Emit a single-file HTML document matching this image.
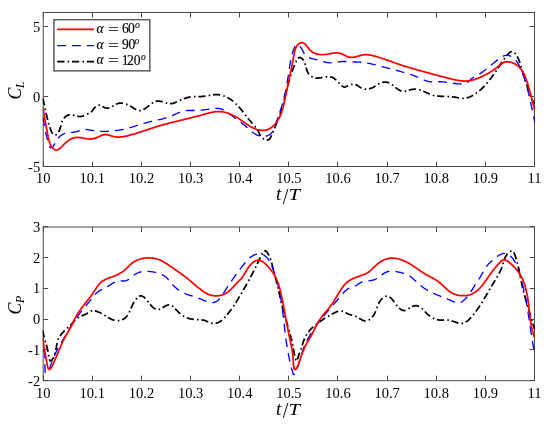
<!DOCTYPE html>
<html><head><meta charset="utf-8"><style>
html,body{margin:0;padding:0;background:#fff;width:550px;height:429px;overflow:hidden}
svg{display:block}
.tk{font-family:"Liberation Serif",serif;font-size:14.5px;fill:#000}
.lab{font-family:"Liberation Serif",serif;font-size:17px;font-style:italic;fill:#000}
.lg{font-family:"Liberation Serif",serif;font-size:13.6px;fill:#000;stroke:#000;stroke-width:0.15px}
</style></head><body>
<svg width="550" height="429" viewBox="0 0 550 429">
<defs><clipPath id="c1"><rect x="42.6" y="12.0" width="492.5" height="155.0"/></clipPath>
<clipPath id="c2"><rect x="42.6" y="226.5" width="492.5" height="154.7"/></clipPath></defs>
<rect width="550" height="429" fill="#fff"/>
<path d="M43.2 12.50 H534.5 M43.2 166.50 H534.5 M43.2 12.00 V167.00 M534.5 12.00 V167.00" fill="none" stroke="#4a4a4a" stroke-width="1"/>
<line x1="43.5" y1="166.5" x2="43.5" y2="161.5" stroke="#4a4a4a"/><line x1="43.5" y1="12.5" x2="43.5" y2="17.5" stroke="#4a4a4a"/>
<line x1="92.5" y1="166.5" x2="92.5" y2="161.5" stroke="#4a4a4a"/><line x1="92.5" y1="12.5" x2="92.5" y2="17.5" stroke="#4a4a4a"/>
<line x1="141.5" y1="166.5" x2="141.5" y2="161.5" stroke="#4a4a4a"/><line x1="141.5" y1="12.5" x2="141.5" y2="17.5" stroke="#4a4a4a"/>
<line x1="190.5" y1="166.5" x2="190.5" y2="161.5" stroke="#4a4a4a"/><line x1="190.5" y1="12.5" x2="190.5" y2="17.5" stroke="#4a4a4a"/>
<line x1="239.5" y1="166.5" x2="239.5" y2="161.5" stroke="#4a4a4a"/><line x1="239.5" y1="12.5" x2="239.5" y2="17.5" stroke="#4a4a4a"/>
<line x1="288.5" y1="166.5" x2="288.5" y2="161.5" stroke="#4a4a4a"/><line x1="288.5" y1="12.5" x2="288.5" y2="17.5" stroke="#4a4a4a"/>
<line x1="337.5" y1="166.5" x2="337.5" y2="161.5" stroke="#4a4a4a"/><line x1="337.5" y1="12.5" x2="337.5" y2="17.5" stroke="#4a4a4a"/>
<line x1="387.5" y1="166.5" x2="387.5" y2="161.5" stroke="#4a4a4a"/><line x1="387.5" y1="12.5" x2="387.5" y2="17.5" stroke="#4a4a4a"/>
<line x1="436.5" y1="166.5" x2="436.5" y2="161.5" stroke="#4a4a4a"/><line x1="436.5" y1="12.5" x2="436.5" y2="17.5" stroke="#4a4a4a"/>
<line x1="485.5" y1="166.5" x2="485.5" y2="161.5" stroke="#4a4a4a"/><line x1="485.5" y1="12.5" x2="485.5" y2="17.5" stroke="#4a4a4a"/>
<line x1="534.5" y1="166.5" x2="534.5" y2="161.5" stroke="#4a4a4a"/><line x1="534.5" y1="12.5" x2="534.5" y2="17.5" stroke="#4a4a4a"/>
<line x1="43.2" y1="166.5" x2="48.2" y2="166.5" stroke="#4a4a4a"/><line x1="534.5" y1="166.5" x2="529.5" y2="166.5" stroke="#4a4a4a"/>
<line x1="43.2" y1="96.5" x2="48.2" y2="96.5" stroke="#4a4a4a"/><line x1="534.5" y1="96.5" x2="529.5" y2="96.5" stroke="#4a4a4a"/>
<line x1="43.2" y1="26.5" x2="48.2" y2="26.5" stroke="#4a4a4a"/><line x1="534.5" y1="26.5" x2="529.5" y2="26.5" stroke="#4a4a4a"/>

<g clip-path="url(#c1)"><path d="M42.9,98.4 43.1,99.3 43.3,100.1 43.5,101.0 43.7,101.8 43.9,102.6 44.0,103.4 44.2,104.2 44.4,105.0 44.5,105.8 44.7,106.6 44.9,107.4 45.0,108.1 45.2,108.9 45.3,109.6 45.5,110.4 45.6,111.1 45.8,111.9 46.0,112.6 46.1,113.3 46.3,114.1 46.5,114.8 46.6,115.6 46.8,116.3 47.0,117.0 47.2,117.8 47.4,118.5 47.5,119.3 47.7,120.1 48.0,120.8 48.2,121.6 48.4,122.4 48.6,123.2 48.9,124.0 49.1,124.8 49.4,125.6 49.6,126.4 49.9,127.3 50.2,128.1 50.5,129.0 50.8,129.9 51.1,130.7 51.5,131.6 51.9,132.4 52.2,133.1 52.7,133.7 53.1,134.3 53.6,134.7 54.1,135.0 54.6,135.1 55.2,135.0 55.8,134.8 56.5,134.4 57.1,133.8 57.6,133.3 58.1,132.7 58.5,132.0 58.9,131.3 59.3,130.6 59.6,129.8 59.9,129.1 60.1,128.3 60.3,127.5 60.6,126.7 60.8,125.8 61.0,125.0 61.2,124.2 61.4,123.4 61.7,122.6 61.9,121.8 62.2,121.1 62.6,120.3 63.0,119.6 63.4,118.9 63.9,118.3 64.4,117.7 64.9,117.1 65.5,116.6 66.1,116.1 66.8,115.7 67.4,115.4 68.1,115.1 68.9,114.9 69.6,114.8 70.3,114.8 71.1,114.8 71.9,114.9 72.7,115.0 73.5,115.2 74.3,115.4 75.1,115.6 75.9,115.8 76.7,116.1 77.5,116.2 78.4,116.4 79.2,116.5 80.0,116.6 80.7,116.5 81.5,116.4 82.3,116.3 83.1,116.0 83.8,115.6 84.6,115.2 85.3,114.9 86.1,114.5 86.8,114.2 87.6,113.9 88.3,113.6 89.1,113.3 89.7,113.0 90.4,112.6 91.0,112.1 91.5,111.6 92.1,111.0 92.5,110.4 93.0,109.8 93.5,109.1 94.0,108.4 94.6,107.8 95.2,107.1 95.8,106.5 96.5,106.0 97.2,105.6 97.9,105.3 98.7,105.1 99.4,105.1 100.1,105.3 100.9,105.6 101.6,105.9 102.4,106.4 103.1,106.8 103.8,107.2 104.6,107.6 105.3,107.8 106.1,108.0 106.9,108.1 107.6,108.1 108.4,108.0 109.1,107.8 109.9,107.6 110.6,107.3 111.4,106.9 112.1,106.5 112.8,106.1 113.5,105.7 114.3,105.2 115.0,104.8 115.7,104.4 116.4,104.0 117.2,103.8 117.9,103.5 118.7,103.4 119.4,103.2 120.2,103.2 120.9,103.1 121.7,103.1 122.4,103.2 123.2,103.3 124.0,103.5 124.7,103.6 125.5,103.9 126.3,104.1 127.0,104.4 127.8,104.7 128.5,105.1 129.3,105.5 130.0,105.9 130.7,106.3 131.5,106.7 132.2,107.2 132.9,107.7 133.6,108.2 134.3,108.6 135.1,109.1 135.8,109.5 136.5,109.9 137.2,110.2 137.9,110.4 138.6,110.6 139.3,110.7 140.0,110.7 140.7,110.6 141.4,110.5 142.1,110.2 142.8,109.9 143.5,109.5 144.2,109.1 144.9,108.7 145.6,108.2 146.3,107.7 146.9,107.1 147.6,106.6 148.3,106.1 149.0,105.5 149.6,105.0 150.3,104.5 151.0,104.0 151.7,103.5 152.3,103.1 153.0,102.6 153.7,102.2 154.4,101.9 155.1,101.6 155.8,101.4 156.5,101.2 157.3,101.1 158.0,101.0 158.8,101.1 159.5,101.1 160.3,101.3 161.1,101.5 161.9,101.7 162.7,101.9 163.5,102.2 164.3,102.5 165.1,102.7 165.9,103.0 166.7,103.2 167.5,103.4 168.3,103.6 169.0,103.7 169.8,103.7 170.6,103.7 171.4,103.6 172.1,103.5 172.9,103.3 173.7,103.1 174.4,102.8 175.2,102.6 175.9,102.2 176.7,101.9 177.4,101.6 178.2,101.2 178.9,100.9 179.6,100.5 180.4,100.2 181.1,99.9 181.9,99.5 182.6,99.2 183.4,98.9 184.1,98.6 184.9,98.4 185.6,98.1 186.4,97.9 187.1,97.6 187.9,97.4 188.6,97.3 189.4,97.1 190.2,97.0 191.0,96.9 191.7,96.8 192.5,96.7 193.3,96.7 194.1,96.6 194.9,96.6 195.7,96.6 196.5,96.6 197.3,96.5 198.1,96.5 198.9,96.5 199.7,96.5 200.5,96.5 201.3,96.5 202.1,96.4 202.9,96.4 203.7,96.3 204.5,96.2 205.3,96.1 206.1,96.0 206.9,95.9 207.7,95.7 208.5,95.6 209.3,95.4 210.1,95.3 210.9,95.2 211.7,95.0 212.5,94.9 213.2,94.8 214.0,94.7 214.8,94.6 215.6,94.6 216.4,94.6 217.2,94.6 217.9,94.6 218.7,94.7 219.5,94.8 220.3,94.9 221.1,95.1 221.8,95.3 222.6,95.5 223.4,95.8 224.1,96.0 224.9,96.3 225.6,96.6 226.4,97.0 227.1,97.3 227.8,97.7 228.5,98.1 229.2,98.6 229.9,99.0 230.6,99.4 231.3,99.9 231.9,100.4 232.6,100.9 233.2,101.4 233.8,101.9 234.4,102.4 235.0,103.0 235.6,103.5 236.2,104.1 236.8,104.6 237.3,105.2 237.9,105.8 238.4,106.4 238.9,106.9 239.4,107.5 240.0,108.1 240.5,108.8 241.0,109.4 241.5,110.0 242.0,110.6 242.5,111.2 243.0,111.9 243.4,112.5 243.9,113.1 244.4,113.7 244.9,114.4 245.4,115.0 245.9,115.6 246.4,116.3 246.8,116.9 247.3,117.5 247.8,118.1 248.3,118.7 248.8,119.4 249.3,120.0 249.9,120.6 250.4,121.2 250.9,121.8 251.4,122.4 252.0,123.0 252.5,123.5 253.0,124.1 253.6,124.7 254.1,125.3 254.6,125.9 255.1,126.5 255.6,127.2 256.1,127.8 256.6,128.4 257.0,129.1 257.4,129.8 257.9,130.4 258.2,131.2 258.6,131.9 258.9,132.6 259.3,133.4 259.6,134.1 260.0,134.9 260.4,135.6 260.8,136.3 261.3,136.9 261.9,137.6 262.5,138.1 263.2,138.6 263.9,139.1 264.6,139.4 265.3,139.7 266.0,139.9 266.8,140.0 267.5,140.0 268.1,139.8 268.7,139.6 269.3,139.2 269.8,138.7 270.2,138.1 270.6,137.4 271.0,136.7 271.3,135.9 271.6,135.1 272.0,134.3 272.3,133.5 272.6,132.8 273.0,132.0 273.3,131.2 273.6,130.4 273.9,129.6 274.3,128.9 274.6,128.1 274.9,127.3 275.2,126.6 275.5,125.8 275.8,125.0 276.1,124.3 276.4,123.5 276.7,122.8 277.0,122.0 277.3,121.3 277.6,120.5 277.9,119.8 278.2,119.0 278.5,118.3 278.7,117.5 279.0,116.8 279.3,116.0 279.5,115.3 279.8,114.6 280.1,113.8 280.3,113.1 280.6,112.3 280.8,111.6 281.1,110.8 281.3,110.1 281.5,109.3 281.8,108.6 282.0,107.8 282.2,107.1 282.4,106.3 282.6,105.6 282.8,104.8 283.1,104.0 283.3,103.3 283.5,102.5 283.7,101.8 283.9,101.0 284.1,100.2 284.3,99.5 284.5,98.7 284.7,98.0 284.9,97.2 285.1,96.4 285.3,95.7 285.4,94.9 285.6,94.1 285.8,93.4 286.0,92.6 286.2,91.8 286.4,91.1 286.6,90.3 286.8,89.5 287.0,88.8 287.2,88.0 287.4,87.2 287.6,86.4 287.8,85.7 288.0,84.9 288.2,84.1 288.4,83.4 288.6,82.6 288.9,81.8 289.1,81.0 289.3,80.3 289.5,79.5 289.7,78.7 290.0,77.9 290.2,77.2 290.5,76.4 290.7,75.6 290.9,74.8 291.2,74.0 291.5,73.3 291.7,72.5 292.0,71.7 292.3,70.9 292.6,70.2 292.8,69.4 293.1,68.6 293.4,67.8 293.7,67.0 294.0,66.3 294.4,65.5 294.7,64.7 295.0,63.9 295.4,63.2 295.7,62.4 296.1,61.6 296.4,60.8 296.8,60.1 297.2,59.4 297.6,58.8 298.1,58.3 298.6,57.9 299.1,57.6 299.6,57.5 300.3,57.6 300.9,57.8 301.6,58.3 302.2,58.8 302.8,59.4 303.3,60.0 303.7,60.6 304.1,61.3 304.5,62.0 304.8,62.8 305.0,63.6 305.3,64.3 305.5,65.1 305.7,65.9 305.9,66.7 306.1,67.5 306.3,68.3 306.5,69.1 306.7,69.9 307.0,70.7 307.3,71.5 307.7,72.2 308.1,72.9 308.5,73.6 309.0,74.2 309.6,74.8 310.1,75.4 310.7,75.9 311.4,76.4 312.0,76.8 312.7,77.2 313.4,77.5 314.2,77.7 314.9,77.9 315.7,78.0 316.4,78.0 317.2,78.1 318.0,78.0 318.8,78.0 319.6,77.9 320.5,77.8 321.3,77.7 322.1,77.5 322.9,77.4 323.8,77.3 324.6,77.1 325.4,77.0 326.2,76.9 327.0,76.8 327.8,76.8 328.6,76.8 329.4,76.8 330.1,76.9 330.9,77.0 331.6,77.2 332.3,77.4 333.0,77.7 333.7,78.1 334.3,78.5 334.9,79.0 335.6,79.5 336.2,80.1 336.8,80.7 337.4,81.3 338.0,81.9 338.5,82.6 339.1,83.2 339.7,83.8 340.3,84.4 340.9,85.0 341.5,85.6 342.1,86.1 342.8,86.5 343.4,86.8 344.1,87.0 344.8,87.0 345.5,86.8 346.2,86.5 347.0,86.2 347.7,85.8 348.5,85.4 349.3,85.0 350.1,84.7 350.9,84.5 351.7,84.3 352.5,84.3 353.3,84.2 354.0,84.3 354.8,84.4 355.6,84.6 356.3,84.9 357.1,85.2 357.8,85.7 358.4,86.1 359.1,86.6 359.8,87.1 360.5,87.6 361.2,88.0 361.9,88.3 362.6,88.6 363.4,88.8 364.2,88.9 364.9,89.1 365.7,89.1 366.5,89.1 367.3,89.1 368.1,89.0 368.9,88.9 369.7,88.7 370.5,88.5 371.2,88.2 372.0,87.9 372.7,87.5 373.5,87.2 374.2,86.7 374.9,86.3 375.6,85.8 376.3,85.4 377.0,84.9 377.7,84.5 378.4,84.1 379.1,83.7 379.8,83.3 380.5,83.0 381.3,82.8 382.0,82.5 382.8,82.4 383.5,82.2 384.3,82.2 385.0,82.1 385.8,82.2 386.5,82.2 387.2,82.3 388.0,82.5 388.7,82.7 389.4,83.0 390.1,83.3 390.8,83.7 391.5,84.1 392.1,84.6 392.8,85.1 393.4,85.6 394.1,86.1 394.7,86.7 395.4,87.3 396.0,87.8 396.7,88.4 397.4,88.9 398.1,89.4 398.8,89.8 399.5,90.2 400.2,90.6 401.0,90.9 401.7,91.1 402.5,91.3 403.2,91.4 404.0,91.4 404.7,91.3 405.5,91.1 406.3,91.0 407.1,90.7 407.9,90.5 408.6,90.2 409.4,90.0 410.2,89.8 411.0,89.6 411.8,89.5 412.6,89.3 413.4,89.3 414.2,89.2 415.0,89.2 415.8,89.3 416.6,89.3 417.4,89.4 418.1,89.6 418.9,89.7 419.7,89.9 420.4,90.1 421.2,90.4 422.0,90.6 422.7,90.9 423.4,91.2 424.2,91.5 424.9,91.9 425.6,92.2 426.4,92.5 427.1,92.9 427.8,93.2 428.6,93.5 429.3,93.9 430.0,94.2 430.8,94.5 431.5,94.8 432.3,95.0 433.0,95.3 433.8,95.5 434.6,95.7 435.4,95.8 436.2,96.0 437.0,96.1 437.8,96.1 438.6,96.2 439.4,96.2 440.2,96.2 441.0,96.3 441.8,96.3 442.6,96.3 443.4,96.3 444.2,96.3 445.0,96.3 445.8,96.4 446.6,96.4 447.4,96.4 448.2,96.5 449.0,96.5 449.8,96.6 450.5,96.6 451.3,96.7 452.1,96.8 452.9,96.9 453.7,97.0 454.5,97.1 455.3,97.2 456.1,97.4 456.9,97.5 457.7,97.7 458.5,97.8 459.4,98.0 460.2,98.1 461.0,98.2 461.8,98.3 462.6,98.3 463.4,98.3 464.2,98.3 465.0,98.2 465.7,98.1 466.5,97.9 467.3,97.7 468.0,97.5 468.8,97.3 469.5,97.0 470.2,96.7 470.9,96.4 471.6,96.0 472.3,95.7 473.0,95.3 473.7,94.9 474.4,94.5 475.1,94.0 475.7,93.6 476.4,93.1 477.0,92.6 477.7,92.2 478.3,91.7 478.9,91.2 479.5,90.7 480.1,90.1 480.7,89.6 481.3,89.1 481.9,88.5 482.5,88.0 483.0,87.4 483.6,86.8 484.2,86.3 484.7,85.7 485.3,85.1 485.8,84.5 486.3,83.9 486.8,83.3 487.4,82.7 487.9,82.0 488.4,81.4 488.9,80.8 489.4,80.2 489.9,79.5 490.4,78.9 490.9,78.2 491.4,77.6 491.8,76.9 492.3,76.3 492.8,75.6 493.2,75.0 493.7,74.3 494.2,73.7 494.6,73.0 495.1,72.3 495.5,71.7 496.0,71.0 496.4,70.3 496.9,69.7 497.3,69.0 497.8,68.3 498.2,67.7 498.7,67.0 499.1,66.4 499.6,65.7 500.0,65.0 500.4,64.4 500.9,63.7 501.3,63.1 501.8,62.4 502.2,61.8 502.6,61.1 503.1,60.5 503.5,59.9 504.0,59.3 504.4,58.6 504.9,58.0 505.3,57.4 505.8,56.7 506.3,56.1 506.9,55.4 507.5,54.8 508.1,54.1 508.7,53.4 509.3,52.8 510.0,52.2 510.7,51.8 511.4,51.5 512.1,51.4 512.7,51.5 513.4,51.8 514.0,52.2 514.6,52.8 515.1,53.4 515.7,54.1 516.1,54.8 516.6,55.4 517.0,56.1 517.4,56.8 517.8,57.5 518.2,58.3 518.5,59.0 518.8,59.7 519.1,60.5 519.4,61.2 519.7,62.0 519.9,62.7 520.2,63.5 520.4,64.3 520.6,65.0 520.8,65.8 521.0,66.6 521.3,67.3 521.5,68.1 521.7,68.9 521.9,69.7 522.1,70.4 522.3,71.2 522.6,72.0 522.8,72.7 523.1,73.5 523.3,74.2 523.6,75.0 523.8,75.7 524.1,76.5 524.4,77.3 524.6,78.0 524.9,78.8 525.1,79.5 525.4,80.3 525.7,81.0 525.9,81.8 526.1,82.6 526.4,83.3 526.6,84.1 526.8,84.9 527.1,85.6 527.3,86.4 527.5,87.2 527.8,87.9 528.0,88.7 528.2,89.5 528.4,90.2 528.7,91.0 528.9,91.8 529.2,92.5 529.4,93.3 529.7,94.0 530.0,94.8 530.2,95.5 530.5,96.3 530.8,97.0 531.2,97.7 531.5,98.5 531.8,99.2 532.2,99.9 532.6,100.6 532.9,101.3 533.4,102.0 533.8,102.7 534.2,103.3 534.7,104.0" fill="none" stroke="#000000" stroke-width="1.75" stroke-linejoin="round" stroke-dasharray="7.2 3.2 1.6 2.8"/>
<path d="M43.0,117.3 43.2,118.3 43.3,119.2 43.5,120.1 43.6,121.0 43.8,121.9 43.9,122.7 44.1,123.5 44.2,124.3 44.3,125.0 44.5,125.8 44.6,126.5 44.7,127.3 44.9,128.0 45.0,128.7 45.1,129.4 45.3,130.1 45.4,130.8 45.5,131.5 45.7,132.2 45.8,132.9 46.0,133.6 46.2,134.4 46.3,135.1 46.5,135.9 46.7,136.6 46.9,137.4 47.1,138.2 47.3,139.1 47.5,139.9 47.8,140.8 48.0,141.7 48.3,142.6 48.5,143.6 48.8,144.6 49.2,145.5 49.5,146.3 49.9,147.0 50.3,147.5 50.7,147.9 51.2,147.9 51.8,147.7 52.3,147.3 52.9,146.7 53.4,146.0 53.9,145.2 54.4,144.5 54.8,143.7 55.1,143.0 55.5,142.3 55.9,141.6 56.2,140.9 56.6,140.2 57.0,139.6 57.5,138.9 58.0,138.3 58.5,137.7 59.1,137.1 59.6,136.6 60.3,136.0 60.9,135.5 61.6,135.1 62.3,134.6 63.0,134.2 63.7,133.9 64.5,133.5 65.2,133.3 66.0,133.0 66.8,132.8 67.5,132.7 68.3,132.6 69.1,132.5 69.9,132.4 70.7,132.4 71.5,132.3 72.3,132.3 73.1,132.2 73.8,132.2 74.6,132.0 75.4,131.9 76.2,131.7 77.0,131.5 77.8,131.3 78.5,131.0 79.3,130.8 80.1,130.6 80.9,130.3 81.6,130.1 82.4,129.9 83.2,129.7 84.0,129.6 84.7,129.5 85.5,129.5 86.3,129.5 87.1,129.6 87.9,129.7 88.7,129.8 89.5,130.0 90.3,130.1 91.0,130.2 91.8,130.4 92.6,130.5 93.4,130.6 94.2,130.7 95.0,130.8 95.8,130.9 96.6,131.0 97.4,131.0 98.2,131.1 99.0,131.1 99.8,131.2 100.6,131.2 101.4,131.3 102.2,131.3 103.0,131.3 103.7,131.3 104.5,131.3 105.3,131.3 106.1,131.3 106.9,131.3 107.7,131.3 108.5,131.2 109.3,131.2 110.1,131.2 110.9,131.1 111.7,131.0 112.4,131.0 113.2,130.9 114.0,130.8 114.8,130.7 115.6,130.6 116.4,130.5 117.2,130.4 117.9,130.3 118.7,130.2 119.5,130.1 120.3,129.9 121.1,129.8 121.8,129.6 122.6,129.5 123.4,129.3 124.2,129.1 124.9,128.9 125.7,128.7 126.5,128.6 127.2,128.4 128.0,128.1 128.8,127.9 129.6,127.7 130.3,127.5 131.1,127.3 131.8,127.1 132.6,126.8 133.4,126.6 134.1,126.4 134.9,126.1 135.7,125.9 136.4,125.7 137.2,125.4 138.0,125.2 138.7,124.9 139.5,124.7 140.3,124.5 141.0,124.2 141.8,124.0 142.6,123.8 143.3,123.5 144.1,123.3 144.9,123.1 145.6,122.9 146.4,122.7 147.2,122.5 148.0,122.3 148.7,122.1 149.5,121.9 150.3,121.7 151.1,121.5 151.8,121.4 152.6,121.2 153.4,121.0 154.2,120.8 155.0,120.6 155.7,120.5 156.5,120.3 157.3,120.1 158.1,119.9 158.9,119.7 159.6,119.6 160.4,119.4 161.2,119.2 162.0,119.0 162.7,118.8 163.5,118.6 164.3,118.4 165.0,118.1 165.8,117.9 166.6,117.7 167.3,117.4 168.1,117.2 168.8,116.9 169.6,116.7 170.3,116.4 171.1,116.1 171.8,115.8 172.6,115.5 173.3,115.2 174.0,114.8 174.8,114.5 175.5,114.2 176.2,113.8 176.9,113.5 177.7,113.1 178.4,112.8 179.1,112.5 179.9,112.2 180.6,111.9 181.4,111.7 182.1,111.4 182.9,111.2 183.6,111.0 184.4,110.8 185.2,110.7 186.0,110.6 186.8,110.5 187.5,110.5 188.4,110.5 189.2,110.5 190.0,110.5 190.8,110.5 191.6,110.5 192.4,110.5 193.2,110.5 194.0,110.5 194.8,110.5 195.6,110.5 196.4,110.5 197.2,110.4 198.0,110.4 198.8,110.3 199.6,110.3 200.4,110.2 201.2,110.1 201.9,110.1 202.7,110.0 203.5,109.9 204.3,109.8 205.1,109.7 205.9,109.6 206.7,109.5 207.5,109.4 208.3,109.3 209.1,109.2 209.9,109.1 210.7,109.0 211.5,108.9 212.3,108.8 213.1,108.7 213.9,108.6 214.7,108.5 215.5,108.4 216.3,108.4 217.1,108.4 217.9,108.4 218.7,108.5 219.5,108.6 220.2,108.7 221.0,108.9 221.7,109.1 222.5,109.4 223.2,109.8 223.9,110.1 224.6,110.6 225.3,111.0 225.9,111.5 226.6,111.9 227.3,112.4 227.9,112.9 228.6,113.4 229.2,113.9 229.9,114.4 230.6,114.8 231.2,115.3 231.9,115.8 232.5,116.2 233.2,116.7 233.8,117.1 234.4,117.6 235.1,118.1 235.7,118.5 236.4,119.0 237.0,119.4 237.6,119.9 238.3,120.4 238.9,120.8 239.5,121.3 240.2,121.8 240.8,122.3 241.4,122.7 242.0,123.2 242.7,123.7 243.3,124.2 243.9,124.7 244.5,125.3 245.1,125.8 245.7,126.3 246.3,126.9 247.0,127.4 247.6,128.0 248.2,128.5 248.8,129.1 249.4,129.6 250.0,130.2 250.7,130.7 251.3,131.2 251.9,131.7 252.6,132.2 253.2,132.7 253.9,133.2 254.5,133.6 255.2,134.0 255.9,134.4 256.6,134.8 257.3,135.1 258.0,135.4 258.7,135.7 259.5,135.9 260.2,136.1 261.0,136.2 261.8,136.3 262.6,136.4 263.4,136.4 264.2,136.4 265.0,136.3 265.8,136.2 266.5,136.0 267.3,135.8 268.0,135.5 268.7,135.2 269.4,134.8 270.0,134.4 270.6,133.9 271.2,133.4 271.7,132.8 272.1,132.2 272.6,131.6 273.0,130.9 273.3,130.2 273.6,129.4 274.0,128.7 274.3,127.9 274.5,127.1 274.8,126.3 275.1,125.5 275.4,124.7 275.6,123.9 275.9,123.1 276.2,122.3 276.4,121.6 276.7,120.8 277.0,120.0 277.3,119.2 277.5,118.5 277.8,117.7 278.1,116.9 278.3,116.2 278.6,115.4 278.9,114.7 279.1,113.9 279.4,113.2 279.6,112.4 279.9,111.7 280.1,110.9 280.4,110.2 280.6,109.4 280.9,108.7 281.1,107.9 281.4,107.2 281.6,106.4 281.8,105.7 282.1,104.9 282.3,104.2 282.5,103.4 282.7,102.7 282.9,101.9 283.2,101.1 283.4,100.4 283.6,99.6 283.8,98.9 284.0,98.1 284.1,97.3 284.3,96.6 284.5,95.8 284.7,95.0 284.9,94.3 285.0,93.5 285.2,92.7 285.4,91.9 285.5,91.1 285.7,90.4 285.9,89.6 286.0,88.8 286.2,88.0 286.3,87.2 286.5,86.4 286.6,85.6 286.7,84.9 286.9,84.1 287.0,83.3 287.1,82.5 287.3,81.7 287.4,80.9 287.5,80.1 287.7,79.3 287.8,78.5 287.9,77.7 288.1,76.9 288.2,76.1 288.3,75.3 288.4,74.5 288.6,73.7 288.7,72.9 288.8,72.1 288.9,71.3 289.0,70.5 289.2,69.7 289.3,68.9 289.4,68.1 289.5,67.3 289.7,66.5 289.8,65.7 289.9,64.9 290.0,64.1 290.2,63.3 290.3,62.5 290.4,61.7 290.6,60.9 290.7,60.1 290.9,59.3 291.0,58.5 291.2,57.8 291.4,57.0 291.6,56.2 291.7,55.4 291.9,54.7 292.2,53.9 292.4,53.1 292.6,52.4 292.9,51.6 293.1,50.9 293.4,50.2 293.7,49.4 294.0,48.7 294.3,48.0 294.6,47.3 294.9,46.6 295.3,45.9 295.7,45.3 296.2,44.8 296.7,44.5 297.4,44.6 298.1,44.9 298.8,45.4 299.5,46.0 300.1,46.6 300.6,47.2 301.1,47.9 301.6,48.6 302.0,49.3 302.4,50.1 302.8,50.9 303.2,51.7 303.6,52.4 304.0,53.2 304.4,53.9 304.9,54.6 305.4,55.2 305.9,55.8 306.5,56.2 307.1,56.7 307.7,57.1 308.4,57.4 309.1,57.7 309.8,58.0 310.5,58.2 311.3,58.5 312.0,58.7 312.8,58.9 313.6,59.0 314.4,59.2 315.2,59.4 316.0,59.6 316.7,59.8 317.5,60.0 318.3,60.2 319.1,60.4 319.9,60.6 320.7,60.9 321.5,61.1 322.2,61.3 323.0,61.5 323.8,61.8 324.6,62.0 325.3,62.2 326.1,62.3 326.9,62.5 327.7,62.6 328.4,62.7 329.2,62.8 330.0,62.9 330.8,62.9 331.6,62.9 332.4,62.9 333.1,62.8 333.9,62.7 334.7,62.6 335.5,62.5 336.3,62.3 337.1,62.2 337.9,62.0 338.7,61.9 339.5,61.8 340.3,61.7 341.1,61.6 341.9,61.5 342.7,61.5 343.4,61.5 344.2,61.5 345.0,61.5 345.8,61.5 346.6,61.5 347.4,61.6 348.2,61.6 349.0,61.6 349.8,61.7 350.6,61.7 351.4,61.8 352.2,61.8 353.0,61.9 353.8,61.9 354.6,62.0 355.3,62.0 356.1,62.0 356.9,62.0 357.7,62.1 358.5,62.1 359.3,62.1 360.1,62.2 360.9,62.2 361.7,62.3 362.5,62.3 363.3,62.4 364.1,62.5 364.8,62.6 365.6,62.7 366.4,62.9 367.2,63.0 368.0,63.1 368.7,63.3 369.5,63.5 370.3,63.6 371.1,63.8 371.8,64.0 372.6,64.2 373.4,64.3 374.2,64.5 374.9,64.7 375.7,64.9 376.5,65.1 377.3,65.3 378.0,65.5 378.8,65.8 379.6,66.0 380.3,66.2 381.1,66.4 381.9,66.6 382.7,66.8 383.4,67.0 384.2,67.2 385.0,67.4 385.8,67.6 386.5,67.8 387.3,68.0 388.1,68.2 388.9,68.4 389.6,68.6 390.4,68.8 391.2,69.0 392.0,69.2 392.7,69.4 393.5,69.6 394.3,69.8 395.0,70.0 395.8,70.2 396.6,70.4 397.4,70.6 398.1,70.8 398.9,71.0 399.7,71.2 400.4,71.4 401.2,71.6 402.0,71.9 402.7,72.1 403.5,72.3 404.3,72.5 405.0,72.7 405.8,73.0 406.6,73.2 407.3,73.4 408.1,73.6 408.8,73.9 409.6,74.1 410.3,74.4 411.1,74.6 411.8,74.9 412.6,75.2 413.3,75.4 414.1,75.7 414.8,76.0 415.6,76.3 416.3,76.6 417.0,76.8 417.8,77.2 418.5,77.5 419.2,77.8 420.0,78.1 420.7,78.4 421.4,78.8 422.2,79.1 422.9,79.4 423.6,79.7 424.3,80.1 425.1,80.4 425.8,80.6 426.5,80.9 427.3,81.2 428.1,81.4 428.8,81.6 429.6,81.7 430.4,81.8 431.2,81.9 432.0,81.9 432.8,82.0 433.6,81.9 434.4,81.9 435.2,81.9 436.1,81.8 436.9,81.8 437.7,81.7 438.5,81.7 439.4,81.7 440.2,81.7 441.0,81.7 441.8,81.8 442.6,81.8 443.4,81.9 444.2,82.0 445.0,82.1 445.7,82.2 446.5,82.3 447.3,82.4 448.1,82.5 448.9,82.6 449.7,82.8 450.4,82.9 451.2,83.0 452.0,83.1 452.8,83.2 453.6,83.3 454.4,83.5 455.2,83.5 455.9,83.6 456.7,83.7 457.5,83.8 458.4,83.8 459.2,83.9 460.0,83.9 460.8,84.0 461.7,84.0 462.5,84.0 463.3,84.0 464.1,83.9 464.9,83.7 465.6,83.5 466.3,83.2 467.0,82.9 467.6,82.4 468.2,81.9 468.7,81.3 469.3,80.7 469.9,80.2 470.5,79.6 471.1,79.1 471.7,78.6 472.4,78.2 473.1,77.8 473.8,77.3 474.5,76.9 475.2,76.5 475.9,76.1 476.6,75.7 477.4,75.3 478.0,74.9 478.7,74.5 479.4,74.1 480.1,73.7 480.7,73.2 481.4,72.8 482.0,72.3 482.7,71.9 483.3,71.4 483.9,70.9 484.6,70.5 485.2,70.0 485.8,69.5 486.4,69.0 487.0,68.5 487.7,68.0 488.3,67.5 488.9,67.0 489.5,66.5 490.1,66.0 490.7,65.5 491.3,65.0 491.9,64.5 492.5,64.0 493.2,63.4 493.8,62.9 494.4,62.4 495.0,61.9 495.7,61.4 496.3,60.9 497.0,60.4 497.6,59.8 498.3,59.3 498.9,58.8 499.6,58.3 500.3,57.8 501.0,57.4 501.7,57.0 502.4,56.6 503.1,56.2 503.8,55.9 504.5,55.6 505.3,55.4 506.0,55.3 506.8,55.3 507.5,55.3 508.3,55.4 509.0,55.6 509.8,55.8 510.5,56.1 511.3,56.5 512.0,56.9 512.7,57.3 513.3,57.8 513.9,58.3 514.5,58.9 515.1,59.4 515.6,60.0 516.1,60.6 516.6,61.3 517.0,61.9 517.5,62.6 517.9,63.3 518.3,64.0 518.7,64.7 519.1,65.4 519.5,66.2 519.8,66.9 520.2,67.6 520.5,68.4 520.8,69.1 521.1,69.9 521.4,70.6 521.7,71.3 522.0,72.1 522.3,72.8 522.6,73.6 522.9,74.3 523.2,75.0 523.4,75.8 523.7,76.5 523.9,77.3 524.2,78.0 524.5,78.8 524.7,79.5 524.9,80.3 525.2,81.1 525.4,81.8 525.6,82.6 525.9,83.3 526.1,84.1 526.3,84.9 526.5,85.6 526.7,86.4 527.0,87.2 527.2,87.9 527.4,88.7 527.6,89.5 527.8,90.3 528.0,91.0 528.2,91.8 528.4,92.6 528.5,93.4 528.7,94.2 528.9,94.9 529.1,95.7 529.3,96.5 529.5,97.3 529.6,98.1 529.8,98.8 530.0,99.6 530.2,100.4 530.3,101.2 530.5,102.0 530.7,102.8 530.9,103.5 531.0,104.3 531.2,105.1 531.4,105.9 531.5,106.7 531.7,107.5 531.9,108.2 532.0,109.0 532.2,109.8 532.4,110.6 532.5,111.4 532.7,112.2 532.9,112.9 533.0,113.7 533.2,114.5 533.4,115.3 533.5,116.1 533.7,116.8 533.9,117.6 534.0,118.4 534.2,119.2 534.4,119.9 534.5,120.7 534.7,121.5" fill="none" stroke="#0000ff" stroke-width="1.35" stroke-linejoin="round" stroke-dasharray="8.8 6"/>
<path d="M43.0,107.4 43.1,108.3 43.3,109.1 43.4,109.9 43.5,110.8 43.6,111.6 43.7,112.4 43.8,113.2 44.0,114.0 44.1,114.8 44.2,115.6 44.3,116.3 44.5,117.1 44.6,117.9 44.7,118.7 44.9,119.4 45.0,120.2 45.1,121.0 45.3,121.7 45.4,122.5 45.6,123.3 45.7,124.0 45.9,124.8 46.0,125.6 46.1,126.3 46.3,127.1 46.4,127.9 46.6,128.6 46.7,129.4 46.9,130.2 47.0,131.0 47.2,131.8 47.3,132.6 47.5,133.4 47.6,134.2 47.8,135.0 47.9,135.8 48.1,136.7 48.3,137.5 48.4,138.3 48.6,139.1 48.8,139.9 49.0,140.7 49.3,141.5 49.5,142.3 49.8,143.0 50.1,143.8 50.4,144.5 50.8,145.2 51.1,145.9 51.6,146.6 52.0,147.2 52.5,147.8 53.0,148.4 53.6,148.9 54.2,149.4 54.9,149.8 55.5,150.0 56.2,150.1 56.9,150.0 57.6,149.7 58.3,149.4 59.0,149.0 59.7,148.5 60.4,147.9 61.1,147.3 61.7,146.7 62.3,146.2 62.9,145.6 63.4,145.0 63.9,144.4 64.5,143.9 65.0,143.3 65.6,142.8 66.2,142.3 66.8,141.8 67.4,141.3 68.0,140.8 68.7,140.3 69.4,139.9 70.1,139.4 70.8,139.1 71.6,138.7 72.3,138.4 73.1,138.1 73.8,137.9 74.6,137.7 75.4,137.6 76.2,137.5 77.0,137.4 77.7,137.4 78.5,137.5 79.3,137.5 80.1,137.6 80.9,137.7 81.7,137.9 82.5,138.0 83.3,138.1 84.1,138.3 84.9,138.4 85.7,138.6 86.5,138.7 87.3,138.8 88.1,138.9 88.9,139.0 89.7,139.0 90.5,139.0 91.3,139.0 92.0,138.9 92.8,138.8 93.6,138.6 94.3,138.4 95.1,138.2 95.8,137.9 96.6,137.6 97.3,137.3 98.1,137.0 98.8,136.6 99.6,136.3 100.3,135.9 101.1,135.6 101.8,135.3 102.6,135.0 103.3,134.8 104.1,134.6 104.9,134.5 105.7,134.5 106.4,134.6 107.2,134.7 108.0,134.9 108.8,135.1 109.6,135.4 110.4,135.6 111.2,135.9 112.0,136.1 112.8,136.4 113.6,136.5 114.4,136.7 115.2,136.8 116.0,136.9 116.7,137.0 117.5,137.0 118.3,137.0 119.1,137.0 119.9,137.0 120.7,136.9 121.4,136.9 122.2,136.8 123.0,136.7 123.8,136.6 124.5,136.4 125.3,136.3 126.1,136.1 126.9,136.0 127.6,135.8 128.4,135.6 129.2,135.4 130.0,135.2 130.7,134.9 131.5,134.7 132.3,134.5 133.0,134.3 133.8,134.0 134.6,133.8 135.3,133.6 136.1,133.3 136.9,133.1 137.6,132.8 138.4,132.6 139.2,132.4 139.9,132.1 140.7,131.9 141.4,131.6 142.2,131.4 143.0,131.1 143.7,130.9 144.5,130.6 145.3,130.4 146.0,130.1 146.8,129.8 147.5,129.6 148.3,129.3 149.1,129.1 149.8,128.8 150.6,128.6 151.4,128.3 152.1,128.1 152.9,127.8 153.6,127.6 154.4,127.4 155.2,127.1 155.9,126.9 156.7,126.6 157.5,126.4 158.2,126.2 159.0,125.9 159.8,125.7 160.5,125.5 161.3,125.3 162.1,125.1 162.8,124.8 163.6,124.6 164.4,124.4 165.1,124.2 165.9,124.0 166.7,123.8 167.4,123.6 168.2,123.4 169.0,123.2 169.7,123.0 170.5,122.8 171.3,122.6 172.0,122.4 172.8,122.2 173.6,122.0 174.4,121.8 175.1,121.6 175.9,121.5 176.7,121.3 177.5,121.1 178.2,120.9 179.0,120.7 179.8,120.5 180.5,120.3 181.3,120.1 182.1,120.0 182.9,119.8 183.6,119.6 184.4,119.4 185.2,119.2 186.0,119.0 186.7,118.8 187.5,118.7 188.3,118.5 189.1,118.3 189.8,118.1 190.6,117.9 191.4,117.7 192.2,117.5 192.9,117.3 193.7,117.1 194.5,116.9 195.3,116.7 196.1,116.5 196.8,116.3 197.6,116.1 198.4,115.9 199.2,115.7 199.9,115.5 200.7,115.3 201.5,115.0 202.3,114.8 203.0,114.6 203.8,114.4 204.6,114.1 205.4,113.9 206.2,113.7 206.9,113.5 207.7,113.3 208.5,113.1 209.3,112.9 210.0,112.7 210.8,112.5 211.6,112.4 212.4,112.2 213.2,112.1 213.9,111.9 214.7,111.8 215.5,111.7 216.3,111.7 217.1,111.6 217.8,111.6 218.6,111.6 219.4,111.6 220.2,111.6 221.0,111.7 221.7,111.7 222.5,111.9 223.3,112.0 224.1,112.1 224.8,112.3 225.6,112.5 226.4,112.7 227.2,112.9 227.9,113.2 228.7,113.4 229.4,113.7 230.2,114.0 230.9,114.3 231.7,114.7 232.4,115.0 233.2,115.4 233.9,115.7 234.6,116.1 235.3,116.5 236.0,116.9 236.7,117.3 237.4,117.8 238.1,118.2 238.8,118.6 239.4,119.1 240.1,119.5 240.8,120.0 241.4,120.4 242.1,120.9 242.7,121.4 243.4,121.8 244.0,122.3 244.7,122.8 245.3,123.2 246.0,123.7 246.6,124.1 247.3,124.6 248.0,125.0 248.6,125.4 249.3,125.9 250.0,126.3 250.7,126.7 251.3,127.1 252.0,127.4 252.8,127.8 253.5,128.1 254.2,128.4 255.0,128.7 255.7,129.0 256.5,129.3 257.3,129.5 258.0,129.7 258.8,129.9 259.6,130.1 260.4,130.2 261.2,130.3 262.0,130.3 262.8,130.4 263.5,130.3 264.3,130.3 265.1,130.2 265.8,130.1 266.6,129.9 267.3,129.7 268.0,129.4 268.7,129.1 269.4,128.7 270.1,128.4 270.7,127.9 271.4,127.5 272.0,127.0 272.6,126.5 273.2,125.9 273.8,125.4 274.4,124.8 274.9,124.2 275.5,123.5 276.0,122.9 276.5,122.2 277.0,121.5 277.4,120.8 277.9,120.1 278.3,119.4 278.7,118.7 279.1,118.0 279.5,117.3 279.8,116.6 280.2,115.8 280.5,115.1 280.8,114.3 281.1,113.6 281.4,112.8 281.6,112.1 281.9,111.3 282.1,110.6 282.4,109.8 282.6,109.1 282.8,108.3 283.0,107.5 283.2,106.8 283.4,106.0 283.6,105.2 283.8,104.4 283.9,103.7 284.1,102.9 284.3,102.1 284.5,101.3 284.6,100.6 284.8,99.8 285.0,99.0 285.1,98.2 285.3,97.5 285.4,96.7 285.6,95.9 285.8,95.1 285.9,94.4 286.1,93.6 286.3,92.8 286.4,92.0 286.6,91.3 286.8,90.5 286.9,89.7 287.1,88.9 287.2,88.2 287.4,87.4 287.6,86.6 287.7,85.8 287.9,85.1 288.1,84.3 288.2,83.5 288.4,82.7 288.5,82.0 288.7,81.2 288.9,80.4 289.0,79.6 289.2,78.9 289.4,78.1 289.5,77.3 289.7,76.5 289.8,75.7 290.0,75.0 290.2,74.2 290.3,73.4 290.5,72.6 290.6,71.8 290.8,71.0 290.9,70.2 291.1,69.5 291.3,68.7 291.4,67.9 291.6,67.1 291.7,66.3 291.9,65.5 292.1,64.7 292.2,63.9 292.4,63.1 292.5,62.3 292.7,61.5 292.9,60.7 293.0,59.9 293.2,59.1 293.3,58.3 293.5,57.5 293.6,56.7 293.8,55.9 294.0,55.0 294.1,54.2 294.3,53.4 294.4,52.6 294.6,51.8 294.8,51.0 295.0,50.2 295.2,49.4 295.5,48.7 295.8,48.0 296.1,47.3 296.4,46.6 296.8,45.9 297.3,45.3 297.8,44.8 298.3,44.2 298.9,43.8 299.6,43.3 300.2,43.0 300.9,42.7 301.6,42.6 302.3,42.6 302.9,42.8 303.6,43.0 304.2,43.4 304.7,43.8 305.3,44.4 305.9,45.0 306.4,45.6 307.0,46.3 307.5,47.0 308.1,47.7 308.6,48.4 309.2,49.1 309.8,49.8 310.4,50.4 311.0,51.0 311.7,51.5 312.3,52.0 313.0,52.4 313.7,52.8 314.4,53.1 315.1,53.4 315.8,53.7 316.5,53.9 317.3,54.1 318.0,54.3 318.8,54.4 319.6,54.5 320.3,54.6 321.1,54.6 321.9,54.6 322.7,54.6 323.5,54.6 324.3,54.6 325.1,54.5 325.9,54.4 326.7,54.3 327.5,54.2 328.4,54.0 329.2,53.9 330.0,53.7 330.8,53.6 331.6,53.4 332.4,53.3 333.2,53.2 334.0,53.0 334.8,53.0 335.5,52.9 336.3,52.9 337.1,52.9 337.9,52.9 338.7,53.0 339.5,53.2 340.2,53.4 341.0,53.6 341.8,53.8 342.5,54.2 343.3,54.5 344.0,54.9 344.7,55.2 345.4,55.6 346.2,56.0 346.9,56.4 347.6,56.7 348.4,56.9 349.1,57.1 349.9,57.3 350.6,57.3 351.4,57.4 352.2,57.4 353.0,57.3 353.8,57.2 354.6,57.1 355.4,56.9 356.2,56.7 356.9,56.5 357.7,56.2 358.5,56.0 359.3,55.8 360.1,55.5 360.9,55.3 361.7,55.1 362.5,55.0 363.3,54.8 364.0,54.8 364.8,54.7 365.6,54.7 366.4,54.7 367.2,54.7 368.0,54.8 368.8,54.9 369.5,55.0 370.3,55.1 371.1,55.2 371.9,55.4 372.7,55.6 373.4,55.8 374.2,56.0 375.0,56.2 375.8,56.4 376.5,56.6 377.3,56.8 378.1,57.1 378.8,57.3 379.6,57.5 380.4,57.8 381.1,58.0 381.9,58.3 382.7,58.5 383.4,58.8 384.2,59.0 384.9,59.3 385.7,59.6 386.4,59.8 387.2,60.1 388.0,60.3 388.7,60.6 389.5,60.9 390.2,61.1 391.0,61.4 391.7,61.7 392.5,62.0 393.2,62.2 394.0,62.5 394.7,62.8 395.5,63.0 396.2,63.3 397.0,63.6 397.7,63.8 398.5,64.1 399.2,64.3 400.0,64.6 400.8,64.9 401.5,65.1 402.3,65.4 403.0,65.6 403.8,65.8 404.6,66.1 405.3,66.3 406.1,66.6 406.8,66.8 407.6,67.0 408.4,67.3 409.1,67.5 409.9,67.7 410.7,68.0 411.4,68.2 412.2,68.4 413.0,68.6 413.7,68.9 414.5,69.1 415.3,69.3 416.0,69.5 416.8,69.7 417.6,70.0 418.3,70.2 419.1,70.4 419.9,70.6 420.6,70.8 421.4,71.0 422.2,71.2 423.0,71.5 423.7,71.7 424.5,71.9 425.3,72.1 426.0,72.3 426.8,72.5 427.6,72.7 428.3,72.9 429.1,73.1 429.9,73.3 430.6,73.6 431.4,73.8 432.2,74.0 432.9,74.2 433.7,74.4 434.5,74.6 435.2,74.8 436.0,75.0 436.8,75.2 437.5,75.4 438.3,75.6 439.1,75.8 439.9,76.0 440.6,76.2 441.4,76.4 442.2,76.6 442.9,76.8 443.7,77.0 444.5,77.2 445.3,77.4 446.0,77.6 446.8,77.8 447.6,78.0 448.3,78.2 449.1,78.4 449.9,78.6 450.7,78.8 451.5,79.0 452.2,79.2 453.0,79.4 453.8,79.5 454.6,79.7 455.4,79.9 456.1,80.0 456.9,80.2 457.7,80.3 458.5,80.5 459.3,80.6 460.1,80.7 460.9,80.8 461.6,80.9 462.4,80.9 463.2,81.0 464.0,81.0 464.8,81.0 465.6,81.0 466.4,81.0 467.2,80.9 467.9,80.9 468.7,80.8 469.5,80.7 470.3,80.5 471.1,80.4 471.9,80.2 472.7,80.0 473.4,79.8 474.2,79.6 475.0,79.3 475.8,79.1 476.5,78.8 477.3,78.5 478.1,78.2 478.8,77.9 479.6,77.6 480.3,77.3 481.1,76.9 481.8,76.6 482.5,76.2 483.2,75.9 484.0,75.5 484.7,75.2 485.4,74.8 486.1,74.4 486.8,74.1 487.5,73.7 488.2,73.3 488.8,72.9 489.5,72.5 490.2,72.1 490.8,71.7 491.5,71.3 492.2,70.9 492.8,70.4 493.5,70.0 494.1,69.5 494.8,69.0 495.4,68.6 496.0,68.1 496.7,67.6 497.3,67.1 498.0,66.5 498.6,66.0 499.2,65.5 499.9,64.9 500.5,64.4 501.2,63.9 501.8,63.5 502.5,63.0 503.2,62.7 503.9,62.4 504.6,62.1 505.4,61.9 506.1,61.8 506.9,61.8 507.7,61.8 508.4,61.8 509.2,61.9 510.0,62.0 510.8,62.2 511.6,62.5 512.4,62.8 513.1,63.1 513.9,63.4 514.6,63.8 515.3,64.2 516.1,64.7 516.7,65.1 517.4,65.6 518.0,66.1 518.6,66.7 519.2,67.2 519.8,67.8 520.3,68.4 520.8,69.0 521.3,69.6 521.8,70.2 522.2,70.9 522.6,71.5 523.0,72.2 523.4,72.9 523.8,73.6 524.2,74.3 524.5,75.0 524.8,75.7 525.1,76.5 525.4,77.2 525.7,78.0 526.0,78.7 526.3,79.5 526.5,80.2 526.8,81.0 527.0,81.8 527.3,82.5 527.5,83.3 527.7,84.1 528.0,84.9 528.2,85.6 528.4,86.4 528.7,87.2 528.9,87.9 529.1,88.7 529.3,89.5 529.5,90.2 529.8,91.0 530.0,91.8 530.2,92.5 530.4,93.3 530.6,94.1 530.8,94.8 531.0,95.6 531.2,96.4 531.4,97.1 531.6,97.9 531.8,98.7 532.0,99.5 532.2,100.2 532.4,101.0 532.6,101.8 532.8,102.5 533.0,103.3 533.2,104.1 533.4,104.8 533.6,105.6 533.8,106.4 534.0,107.2 534.2,107.9 534.4,108.7 534.6,109.5 534.8,110.3" fill="none" stroke="#ff0000" stroke-width="1.75" stroke-linejoin="round"/>
</g>
<text x="43.2" y="183.0" text-anchor="middle" class="tk">10</text>
<text x="92.3" y="183.0" text-anchor="middle" class="tk">10.1</text>
<text x="141.5" y="183.0" text-anchor="middle" class="tk">10.2</text>
<text x="190.6" y="183.0" text-anchor="middle" class="tk">10.3</text>
<text x="239.7" y="183.0" text-anchor="middle" class="tk">10.4</text>
<text x="288.9" y="183.0" text-anchor="middle" class="tk">10.5</text>
<text x="338.0" y="183.0" text-anchor="middle" class="tk">10.6</text>
<text x="387.1" y="183.0" text-anchor="middle" class="tk">10.7</text>
<text x="436.2" y="183.0" text-anchor="middle" class="tk">10.8</text>
<text x="485.4" y="183.0" text-anchor="middle" class="tk">10.9</text>
<text x="534.5" y="183.0" text-anchor="middle" class="tk">11</text>
<text x="40.2" y="171.5" text-anchor="end" class="tk">-5</text>
<text x="40.2" y="101.5" text-anchor="end" class="tk">0</text>
<text x="40.2" y="31.5" text-anchor="end" class="tk">5</text>

<path d="M43.2 227.00 H534.5 M43.2 380.70 H534.5 M43.2 226.50 V381.20 M534.5 226.50 V381.20" fill="none" stroke="#4a4a4a" stroke-width="1"/>
<line x1="43.5" y1="380.7" x2="43.5" y2="375.7" stroke="#4a4a4a"/><line x1="43.5" y1="227.0" x2="43.5" y2="232.0" stroke="#4a4a4a"/>
<line x1="92.5" y1="380.7" x2="92.5" y2="375.7" stroke="#4a4a4a"/><line x1="92.5" y1="227.0" x2="92.5" y2="232.0" stroke="#4a4a4a"/>
<line x1="141.5" y1="380.7" x2="141.5" y2="375.7" stroke="#4a4a4a"/><line x1="141.5" y1="227.0" x2="141.5" y2="232.0" stroke="#4a4a4a"/>
<line x1="190.5" y1="380.7" x2="190.5" y2="375.7" stroke="#4a4a4a"/><line x1="190.5" y1="227.0" x2="190.5" y2="232.0" stroke="#4a4a4a"/>
<line x1="239.5" y1="380.7" x2="239.5" y2="375.7" stroke="#4a4a4a"/><line x1="239.5" y1="227.0" x2="239.5" y2="232.0" stroke="#4a4a4a"/>
<line x1="288.5" y1="380.7" x2="288.5" y2="375.7" stroke="#4a4a4a"/><line x1="288.5" y1="227.0" x2="288.5" y2="232.0" stroke="#4a4a4a"/>
<line x1="337.5" y1="380.7" x2="337.5" y2="375.7" stroke="#4a4a4a"/><line x1="337.5" y1="227.0" x2="337.5" y2="232.0" stroke="#4a4a4a"/>
<line x1="387.5" y1="380.7" x2="387.5" y2="375.7" stroke="#4a4a4a"/><line x1="387.5" y1="227.0" x2="387.5" y2="232.0" stroke="#4a4a4a"/>
<line x1="436.5" y1="380.7" x2="436.5" y2="375.7" stroke="#4a4a4a"/><line x1="436.5" y1="227.0" x2="436.5" y2="232.0" stroke="#4a4a4a"/>
<line x1="485.5" y1="380.7" x2="485.5" y2="375.7" stroke="#4a4a4a"/><line x1="485.5" y1="227.0" x2="485.5" y2="232.0" stroke="#4a4a4a"/>
<line x1="534.5" y1="380.7" x2="534.5" y2="375.7" stroke="#4a4a4a"/><line x1="534.5" y1="227.0" x2="534.5" y2="232.0" stroke="#4a4a4a"/>
<line x1="43.2" y1="380.5" x2="48.2" y2="380.5" stroke="#4a4a4a"/><line x1="534.5" y1="380.5" x2="529.5" y2="380.5" stroke="#4a4a4a"/>
<line x1="43.2" y1="349.5" x2="48.2" y2="349.5" stroke="#4a4a4a"/><line x1="534.5" y1="349.5" x2="529.5" y2="349.5" stroke="#4a4a4a"/>
<line x1="43.2" y1="319.5" x2="48.2" y2="319.5" stroke="#4a4a4a"/><line x1="534.5" y1="319.5" x2="529.5" y2="319.5" stroke="#4a4a4a"/>
<line x1="43.2" y1="288.5" x2="48.2" y2="288.5" stroke="#4a4a4a"/><line x1="534.5" y1="288.5" x2="529.5" y2="288.5" stroke="#4a4a4a"/>
<line x1="43.2" y1="257.5" x2="48.2" y2="257.5" stroke="#4a4a4a"/><line x1="534.5" y1="257.5" x2="529.5" y2="257.5" stroke="#4a4a4a"/>
<line x1="43.2" y1="226.5" x2="48.2" y2="226.5" stroke="#4a4a4a"/><line x1="534.5" y1="226.5" x2="529.5" y2="226.5" stroke="#4a4a4a"/>

<g clip-path="url(#c2)"><path d="M42.8,330.5 43.0,331.5 43.1,332.4 43.3,333.3 43.4,334.2 43.6,335.0 43.8,335.8 44.0,336.6 44.2,337.4 44.4,338.1 44.5,338.8 44.7,339.5 44.9,340.2 45.1,340.8 45.3,341.5 45.5,342.2 45.7,342.9 46.0,343.5 46.2,344.2 46.4,344.9 46.6,345.6 46.8,346.3 47.0,347.0 47.1,347.8 47.3,348.6 47.5,349.4 47.7,350.2 47.9,351.1 48.1,352.0 48.2,353.0 48.4,354.0 48.6,355.0 48.7,356.0 48.9,357.0 49.1,358.0 49.3,358.9 49.5,359.7 49.8,360.3 50.1,360.7 50.4,361.0 50.8,361.0 51.2,360.8 51.6,360.4 52.1,359.8 52.5,359.1 53.0,358.3 53.4,357.6 53.8,356.8 54.1,356.0 54.4,355.2 54.7,354.4 54.9,353.6 55.2,352.8 55.4,352.0 55.6,351.2 55.7,350.4 55.9,349.6 56.1,348.8 56.2,348.0 56.4,347.2 56.5,346.4 56.6,345.6 56.8,344.8 57.0,344.0 57.1,343.2 57.3,342.5 57.5,341.7 57.7,340.9 58.0,340.2 58.2,339.5 58.5,338.7 58.8,338.0 59.2,337.3 59.6,336.7 60.0,336.0 60.5,335.3 60.9,334.7 61.5,334.0 62.0,333.4 62.5,332.8 63.1,332.2 63.6,331.6 64.2,331.0 64.8,330.5 65.4,329.9 66.0,329.4 66.5,328.8 67.1,328.3 67.7,327.7 68.3,327.2 68.8,326.6 69.4,326.1 70.0,325.6 70.6,325.0 71.1,324.5 71.7,323.9 72.2,323.3 72.8,322.8 73.3,322.2 73.9,321.6 74.5,321.0 75.0,320.5 75.6,319.9 76.1,319.4 76.7,318.8 77.3,318.3 78.0,317.9 78.6,317.4 79.2,317.0 79.9,316.6 80.6,316.3 81.4,315.9 82.1,315.6 82.9,315.4 83.6,315.1 84.4,314.8 85.2,314.4 85.9,314.1 86.7,313.7 87.4,313.2 88.1,312.8 88.8,312.3 89.5,311.8 90.2,311.4 90.9,311.1 91.7,310.8 92.4,310.6 93.1,310.5 93.8,310.5 94.6,310.6 95.3,310.8 96.1,311.1 96.9,311.4 97.6,311.7 98.3,312.0 99.0,312.3 99.8,312.6 100.5,313.0 101.2,313.3 101.9,313.7 102.6,314.1 103.2,314.5 103.9,314.8 104.6,315.3 105.3,315.7 106.0,316.1 106.7,316.5 107.4,317.0 108.1,317.4 108.8,317.9 109.6,318.3 110.3,318.7 111.0,319.0 111.7,319.4 112.5,319.7 113.2,320.0 114.0,320.2 114.8,320.4 115.5,320.5 116.3,320.6 117.1,320.6 117.9,320.6 118.6,320.6 119.4,320.5 120.2,320.3 120.9,320.1 121.6,319.9 122.4,319.6 123.0,319.3 123.7,318.9 124.4,318.5 125.0,318.0 125.6,317.5 126.1,317.0 126.6,316.4 127.1,315.7 127.6,315.1 128.0,314.4 128.4,313.7 128.8,312.9 129.2,312.2 129.6,311.4 129.9,310.6 130.3,309.9 130.6,309.1 130.9,308.3 131.3,307.6 131.6,306.8 132.0,306.1 132.3,305.3 132.7,304.6 133.0,303.9 133.4,303.2 133.8,302.5 134.2,301.9 134.6,301.2 135.1,300.5 135.6,299.9 136.1,299.2 136.6,298.6 137.2,298.0 137.8,297.4 138.4,296.9 139.1,296.4 139.7,296.1 140.4,295.9 141.1,295.9 141.8,296.0 142.5,296.3 143.2,296.7 143.9,297.1 144.5,297.7 145.2,298.3 145.8,298.9 146.4,299.6 146.9,300.2 147.4,300.9 147.9,301.5 148.4,302.1 148.9,302.8 149.4,303.4 149.9,304.0 150.4,304.6 151.0,305.2 151.5,305.9 152.1,306.5 152.7,307.1 153.3,307.6 154.0,308.2 154.6,308.6 155.3,309.0 156.0,309.4 156.7,309.6 157.4,309.7 158.2,309.6 158.9,309.5 159.6,309.2 160.3,308.9 161.1,308.5 161.8,308.1 162.6,307.7 163.3,307.2 164.1,306.7 164.9,306.3 165.7,305.9 166.4,305.5 167.2,305.2 168.0,305.0 168.7,304.8 169.5,304.8 170.2,304.9 170.8,305.0 171.5,305.3 172.1,305.7 172.8,306.2 173.4,306.7 174.0,307.3 174.6,307.9 175.1,308.6 175.7,309.2 176.3,309.9 176.9,310.5 177.5,311.1 178.1,311.7 178.7,312.3 179.3,312.8 179.9,313.4 180.5,313.9 181.2,314.4 181.8,314.9 182.4,315.3 183.1,315.8 183.7,316.2 184.4,316.6 185.1,317.0 185.8,317.3 186.5,317.6 187.2,317.9 187.9,318.2 188.7,318.4 189.4,318.6 190.2,318.8 191.0,319.0 191.8,319.1 192.6,319.2 193.4,319.3 194.3,319.4 195.1,319.4 195.9,319.5 196.7,319.5 197.5,319.5 198.3,319.6 199.1,319.6 199.9,319.7 200.7,319.8 201.4,319.8 202.1,320.0 202.9,320.1 203.6,320.2 204.4,320.4 205.2,320.7 205.9,320.9 206.7,321.3 207.6,321.6 208.4,321.9 209.2,322.3 210.0,322.6 210.8,322.9 211.6,323.1 212.4,323.3 213.2,323.4 214.0,323.4 214.7,323.4 215.4,323.4 216.2,323.2 216.9,323.0 217.6,322.8 218.3,322.5 218.9,322.2 219.6,321.8 220.2,321.4 220.9,321.0 221.5,320.5 222.1,320.0 222.7,319.5 223.3,319.0 223.9,318.4 224.4,317.8 225.0,317.2 225.6,316.6 226.1,316.0 226.6,315.3 227.2,314.7 227.7,314.0 228.2,313.4 228.7,312.8 229.2,312.1 229.7,311.5 230.2,310.8 230.7,310.2 231.2,309.5 231.6,308.8 232.1,308.2 232.6,307.5 233.0,306.8 233.5,306.2 233.9,305.5 234.4,304.8 234.8,304.2 235.3,303.5 235.7,302.8 236.1,302.2 236.5,301.5 237.0,300.8 237.4,300.1 237.8,299.4 238.2,298.8 238.6,298.1 239.0,297.4 239.4,296.7 239.8,296.1 240.3,295.4 240.7,294.7 241.1,294.0 241.5,293.3 241.9,292.7 242.3,292.0 242.7,291.3 243.1,290.6 243.4,289.9 243.8,289.2 244.2,288.6 244.6,287.9 245.0,287.2 245.4,286.5 245.8,285.8 246.2,285.1 246.6,284.4 246.9,283.8 247.3,283.1 247.7,282.4 248.1,281.7 248.5,281.0 248.9,280.3 249.2,279.6 249.6,278.9 250.0,278.2 250.4,277.5 250.7,276.8 251.1,276.1 251.5,275.4 251.8,274.7 252.2,274.0 252.6,273.2 253.0,272.5 253.3,271.8 253.7,271.1 254.0,270.4 254.4,269.7 254.8,268.9 255.1,268.2 255.5,267.5 255.9,266.7 256.2,266.0 256.6,265.3 256.9,264.5 257.3,263.8 257.7,263.0 258.0,262.3 258.4,261.5 258.7,260.8 259.1,260.0 259.4,259.3 259.8,258.5 260.1,257.7 260.5,257.0 260.8,256.2 261.2,255.4 261.5,254.6 261.9,253.9 262.3,253.1 262.7,252.5 263.1,251.9 263.6,251.4 264.1,251.1 264.6,250.9 265.2,250.9 265.8,251.1 266.4,251.5 266.9,252.0 267.4,252.6 267.8,253.3 268.2,254.0 268.6,254.7 269.0,255.4 269.4,256.1 269.7,256.9 270.0,257.6 270.3,258.4 270.6,259.1 270.8,259.9 271.0,260.7 271.3,261.4 271.5,262.2 271.7,263.0 271.9,263.8 272.1,264.6 272.3,265.4 272.5,266.1 272.6,266.9 272.8,267.7 273.0,268.5 273.2,269.3 273.4,270.1 273.6,270.9 273.8,271.7 274.0,272.5 274.2,273.2 274.4,274.0 274.6,274.8 274.8,275.6 275.0,276.3 275.2,277.1 275.4,277.9 275.7,278.6 275.9,279.4 276.1,280.2 276.3,280.9 276.5,281.7 276.7,282.5 276.9,283.3 277.1,284.0 277.3,284.8 277.5,285.6 277.7,286.3 277.8,287.1 278.0,287.9 278.2,288.7 278.4,289.4 278.6,290.2 278.7,291.0 278.9,291.7 279.1,292.5 279.3,293.3 279.4,294.1 279.6,294.8 279.8,295.6 279.9,296.4 280.1,297.2 280.3,297.9 280.4,298.7 280.6,299.5 280.8,300.3 281.0,301.0 281.1,301.8 281.3,302.6 281.5,303.4 281.7,304.2 281.8,304.9 282.0,305.7 282.2,306.5 282.4,307.3 282.6,308.1 282.8,308.8 283.0,309.6 283.2,310.4 283.4,311.2 283.6,312.0 283.8,312.7 284.0,313.5 284.2,314.3 284.5,315.1 284.7,315.9 284.9,316.7 285.1,317.4 285.4,318.2 285.6,319.0 285.8,319.8 286.1,320.6 286.3,321.3 286.5,322.1 286.8,322.9 287.0,323.7 287.3,324.4 287.5,325.2 287.7,326.0 288.0,326.8 288.2,327.5 288.4,328.3 288.6,329.0 288.9,329.8 289.1,330.6 289.3,331.3 289.5,332.1 289.7,332.8 290.0,333.6 290.2,334.3 290.4,335.0 290.6,335.8 290.8,336.5 290.9,337.2 291.1,338.0 291.3,338.7 291.5,339.4 291.6,340.1 291.8,340.8 292.0,341.5 292.1,342.3 292.3,343.0 292.4,343.7 292.6,344.5 292.7,345.3 292.9,346.1 293.0,346.9 293.2,347.8 293.4,348.7 293.5,349.6 293.7,350.6 293.9,351.7 294.1,352.8 294.3,353.9 294.6,355.0 294.8,356.0 295.0,357.1 295.3,358.0 295.5,358.9 295.8,359.6 296.0,360.2 296.3,360.6 296.5,360.9 296.7,360.9 297.0,360.7 297.2,360.3 297.4,359.7 297.6,358.9 297.9,358.1 298.1,357.2 298.4,356.3 298.6,355.4 298.9,354.6 299.2,353.8 299.5,353.1 299.8,352.4 300.1,351.7 300.3,351.0 300.6,350.2 300.9,349.5 301.2,348.7 301.4,348.0 301.6,347.2 301.9,346.4 302.1,345.6 302.4,344.8 302.6,344.0 302.9,343.2 303.1,342.4 303.4,341.6 303.7,340.8 304.0,340.0 304.3,339.2 304.6,338.5 304.9,337.7 305.3,337.0 305.7,336.3 306.1,335.6 306.5,334.9 306.9,334.3 307.3,333.6 307.7,333.0 308.2,332.4 308.7,331.7 309.1,331.1 309.6,330.5 310.1,329.9 310.7,329.4 311.2,328.8 311.7,328.3 312.3,327.7 312.8,327.2 313.4,326.6 314.0,326.1 314.6,325.6 315.2,325.1 315.8,324.6 316.4,324.1 317.0,323.6 317.6,323.2 318.3,322.7 318.9,322.2 319.6,321.8 320.2,321.3 320.9,320.8 321.6,320.4 322.3,320.0 322.9,319.5 323.6,319.1 324.3,318.6 325.0,318.2 325.7,317.8 326.4,317.4 327.2,316.9 327.9,316.5 328.6,316.1 329.3,315.7 330.0,315.2 330.8,314.8 331.5,314.4 332.2,314.0 332.9,313.6 333.7,313.2 334.4,312.8 335.1,312.4 335.9,312.1 336.6,311.8 337.3,311.5 338.0,311.3 338.8,311.1 339.5,311.0 340.2,311.0 340.9,311.0 341.6,311.1 342.4,311.2 343.1,311.5 343.8,311.7 344.5,312.1 345.2,312.4 345.9,312.8 346.6,313.2 347.4,313.6 348.1,313.9 348.8,314.2 349.6,314.5 350.3,314.7 351.1,315.0 351.9,315.2 352.6,315.4 353.4,315.6 354.2,315.8 354.9,316.1 355.7,316.3 356.4,316.6 357.1,317.0 357.9,317.4 358.6,317.8 359.3,318.3 360.0,318.7 360.7,319.2 361.4,319.6 362.1,320.0 362.8,320.4 363.6,320.6 364.3,320.8 365.0,320.9 365.8,320.9 366.6,320.8 367.4,320.6 368.1,320.3 368.9,319.9 369.6,319.5 370.3,319.1 370.9,318.5 371.5,318.0 372.0,317.4 372.5,316.8 373.0,316.2 373.5,315.6 373.9,314.9 374.3,314.2 374.6,313.5 375.0,312.7 375.3,312.0 375.6,311.2 375.9,310.5 376.2,309.7 376.5,308.9 376.8,308.1 377.1,307.4 377.4,306.6 377.7,305.8 378.0,305.1 378.3,304.3 378.7,303.6 379.0,302.8 379.4,302.1 379.9,301.4 380.3,300.7 380.8,300.1 381.3,299.4 381.9,298.8 382.5,298.3 383.1,297.7 383.8,297.3 384.5,296.9 385.2,296.6 385.9,296.3 386.6,296.2 387.2,296.2 387.9,296.3 388.5,296.5 389.2,296.8 389.8,297.2 390.4,297.7 391.0,298.2 391.6,298.7 392.2,299.4 392.8,300.0 393.3,300.7 393.9,301.4 394.4,302.1 394.9,302.8 395.4,303.6 395.9,304.3 396.4,304.9 396.9,305.6 397.3,306.2 397.8,306.8 398.3,307.3 398.9,307.9 399.5,308.4 400.1,308.9 400.8,309.4 401.5,309.8 402.3,310.1 403.0,310.4 403.7,310.5 404.5,310.5 405.2,310.4 405.9,310.1 406.6,309.8 407.3,309.4 408.0,309.0 408.7,308.5 409.5,308.0 410.2,307.6 411.0,307.2 411.8,306.8 412.6,306.4 413.4,306.2 414.2,305.9 414.9,305.8 415.7,305.7 416.4,305.7 417.2,305.8 417.9,306.0 418.5,306.3 419.2,306.6 419.9,307.0 420.5,307.4 421.1,307.9 421.7,308.4 422.3,308.9 422.9,309.5 423.5,310.1 424.1,310.7 424.7,311.3 425.3,312.0 425.9,312.6 426.5,313.2 427.1,313.8 427.7,314.3 428.3,314.9 429.0,315.4 429.6,315.9 430.2,316.4 430.9,316.8 431.6,317.3 432.2,317.7 432.9,318.0 433.6,318.4 434.3,318.7 435.0,319.0 435.8,319.2 436.5,319.5 437.2,319.6 438.0,319.8 438.8,319.9 439.6,320.0 440.4,320.0 441.2,320.0 442.0,320.0 442.8,320.0 443.6,320.0 444.5,319.9 445.3,319.9 446.1,319.9 446.9,319.9 447.7,320.0 448.5,320.1 449.3,320.2 450.0,320.4 450.8,320.6 451.5,320.8 452.3,321.0 453.0,321.3 453.8,321.5 454.6,321.8 455.4,322.1 456.2,322.4 456.9,322.7 457.7,322.9 458.5,323.1 459.3,323.3 460.1,323.4 460.9,323.5 461.6,323.4 462.4,323.4 463.1,323.2 463.8,323.0 464.5,322.7 465.2,322.4 465.9,322.0 466.5,321.6 467.2,321.2 467.8,320.7 468.4,320.2 469.0,319.6 469.6,319.0 470.2,318.4 470.8,317.8 471.4,317.2 471.9,316.5 472.5,315.9 473.0,315.2 473.5,314.5 474.0,313.9 474.5,313.2 475.0,312.6 475.5,311.9 476.0,311.3 476.5,310.6 476.9,310.0 477.4,309.3 477.8,308.7 478.3,308.1 478.7,307.4 479.2,306.8 479.6,306.1 480.0,305.5 480.5,304.8 480.9,304.2 481.3,303.5 481.7,302.9 482.2,302.2 482.6,301.5 483.0,300.8 483.4,300.2 483.8,299.5 484.2,298.8 484.6,298.1 485.0,297.4 485.4,296.7 485.9,296.0 486.3,295.3 486.7,294.6 487.1,293.9 487.5,293.2 487.9,292.5 488.3,291.8 488.7,291.1 489.1,290.4 489.5,289.7 489.9,289.0 490.3,288.3 490.7,287.6 491.1,286.9 491.5,286.3 491.9,285.6 492.3,284.9 492.7,284.2 493.1,283.5 493.6,282.8 494.0,282.2 494.4,281.5 494.8,280.8 495.2,280.1 495.6,279.5 496.0,278.8 496.4,278.1 496.9,277.4 497.3,276.8 497.6,276.1 498.0,275.4 498.4,274.7 498.8,274.0 499.2,273.3 499.5,272.6 499.9,271.9 500.2,271.2 500.6,270.4 500.9,269.7 501.2,269.0 501.5,268.2 501.8,267.4 502.0,266.7 502.3,265.9 502.6,265.1 502.8,264.3 503.1,263.5 503.3,262.7 503.5,261.9 503.8,261.1 504.1,260.3 504.3,259.5 504.6,258.7 504.9,258.0 505.3,257.3 505.6,256.5 506.0,255.9 506.4,255.2 506.8,254.5 507.3,253.9 507.8,253.3 508.3,252.8 508.9,252.3 509.6,251.8 510.2,251.5 510.8,251.2 511.4,251.0 512.0,251.0 512.6,251.2 513.1,251.5 513.5,252.0 513.9,252.7 514.3,253.4 514.6,254.2 514.9,255.1 515.2,255.9 515.5,256.7 515.7,257.6 516.0,258.4 516.3,259.2 516.5,260.0 516.7,260.8 517.0,261.7 517.2,262.5 517.4,263.3 517.6,264.1 517.8,264.9 518.0,265.6 518.2,266.4 518.4,267.2 518.5,268.0 518.7,268.8 518.9,269.6 519.1,270.3 519.2,271.1 519.4,271.9 519.5,272.7 519.7,273.4 519.8,274.2 520.0,275.0 520.1,275.7 520.3,276.5 520.4,277.3 520.6,278.0 520.7,278.8 520.9,279.6 521.0,280.3 521.2,281.1 521.3,281.9 521.5,282.6 521.7,283.4 521.8,284.2 522.0,284.9 522.2,285.7 522.3,286.5 522.5,287.3 522.7,288.0 522.9,288.8 523.1,289.6 523.3,290.3 523.4,291.1 523.6,291.9 523.8,292.7 524.0,293.5 524.2,294.2 524.5,295.0 524.7,295.8 524.9,296.6 525.1,297.3 525.3,298.1 525.5,298.9 525.8,299.7 526.0,300.5 526.2,301.2 526.4,302.0 526.6,302.8 526.9,303.6 527.1,304.4 527.3,305.1 527.6,305.9 527.8,306.7 528.0,307.5 528.3,308.2 528.5,309.0 528.7,309.8 529.0,310.6 529.2,311.3 529.5,312.1 529.7,312.9 529.9,313.7 530.2,314.4 530.4,315.2 530.6,316.0 530.9,316.7 531.1,317.5 531.3,318.3 531.6,319.0 531.8,319.8 532.0,320.6 532.3,321.3 532.5,322.1 532.7,322.8 533.0,323.6 533.2,324.4 533.4,325.1 533.6,325.9 533.8,326.6 534.1,327.4 534.3,328.1 534.5,328.8 534.7,329.6" fill="none" stroke="#000000" stroke-width="1.75" stroke-linejoin="round" stroke-dasharray="7.2 3.2 1.6 2.8"/>
<path d="M42.8,350.8 43.2,350.6 43.5,350.5 43.8,350.7 44.1,351.1 44.3,351.6 44.4,352.2 44.6,353.0 44.7,353.9 44.8,354.9 44.8,356.0 44.9,357.1 44.9,358.3 44.9,359.6 44.9,360.9 44.9,362.2 44.9,363.5 44.9,364.8 44.9,366.0 44.9,367.2 44.9,368.4 45.0,369.5 45.0,370.4 45.1,371.3 45.2,372.1 45.4,372.7 45.5,373.2 45.7,373.5 46.0,373.7 46.3,373.6 46.6,373.4 47.0,373.0 47.4,372.4 47.8,371.7 48.3,370.9 48.7,370.1 49.1,369.3 49.5,368.4 49.8,367.6 50.2,366.8 50.5,366.0 50.8,365.2 51.0,364.5 51.3,363.7 51.6,362.9 51.9,362.2 52.1,361.4 52.4,360.7 52.7,360.0 52.9,359.2 53.2,358.5 53.5,357.8 53.8,357.0 54.1,356.3 54.5,355.6 54.8,354.9 55.1,354.2 55.4,353.4 55.8,352.7 56.1,352.0 56.5,351.3 56.8,350.6 57.2,349.9 57.6,349.2 58.0,348.5 58.3,347.8 58.7,347.1 59.1,346.4 59.5,345.7 59.9,345.0 60.3,344.3 60.7,343.6 61.1,342.9 61.5,342.2 61.9,341.5 62.3,340.9 62.7,340.2 63.1,339.5 63.5,338.8 63.9,338.1 64.3,337.4 64.8,336.7 65.2,336.0 65.6,335.4 66.0,334.7 66.4,334.0 66.8,333.3 67.2,332.6 67.7,331.9 68.1,331.2 68.5,330.5 68.9,329.9 69.3,329.2 69.7,328.5 70.1,327.8 70.6,327.1 71.0,326.4 71.4,325.7 71.8,325.1 72.2,324.4 72.7,323.7 73.1,323.0 73.5,322.4 74.0,321.7 74.4,321.0 74.8,320.3 75.3,319.7 75.7,319.0 76.2,318.4 76.6,317.7 77.1,317.1 77.5,316.4 78.0,315.8 78.4,315.1 78.9,314.5 79.4,313.8 79.9,313.2 80.3,312.6 80.8,311.9 81.3,311.3 81.8,310.7 82.3,310.1 82.8,309.5 83.3,308.8 83.8,308.2 84.3,307.6 84.8,307.0 85.3,306.4 85.8,305.8 86.4,305.1 86.9,304.5 87.4,303.9 87.9,303.3 88.4,302.7 88.9,302.1 89.4,301.4 89.9,300.8 90.5,300.2 91.0,299.6 91.5,298.9 92.0,298.3 92.5,297.7 93.0,297.0 93.5,296.4 94.0,295.8 94.5,295.1 95.0,294.5 95.6,293.9 96.1,293.4 96.7,292.8 97.3,292.3 97.9,291.8 98.5,291.4 99.1,291.0 99.8,290.6 100.5,290.2 101.2,289.9 101.9,289.6 102.7,289.3 103.4,289.0 104.1,288.6 104.8,288.2 105.5,287.8 106.2,287.4 106.9,287.0 107.6,286.6 108.3,286.1 109.0,285.7 109.6,285.2 110.3,284.8 111.0,284.3 111.7,283.9 112.4,283.5 113.1,283.1 113.8,282.7 114.5,282.3 115.2,282.0 116.0,281.7 116.7,281.4 117.4,281.2 118.2,281.0 119.0,280.9 119.8,280.9 120.6,280.9 121.4,280.9 122.2,281.0 123.0,281.0 123.8,281.0 124.5,281.0 125.3,280.9 126.1,280.7 126.8,280.4 127.5,280.1 128.2,279.7 128.8,279.2 129.5,278.7 130.2,278.1 130.8,277.6 131.5,277.0 132.1,276.4 132.8,275.9 133.5,275.4 134.1,274.9 134.8,274.5 135.5,274.0 136.2,273.7 136.9,273.3 137.6,273.0 138.3,272.7 139.0,272.5 139.7,272.2 140.4,272.0 141.2,271.9 141.9,271.7 142.6,271.6 143.4,271.5 144.2,271.4 144.9,271.4 145.7,271.3 146.5,271.3 147.2,271.3 148.0,271.4 148.8,271.4 149.6,271.5 150.4,271.6 151.2,271.7 152.1,271.8 152.9,271.9 153.7,272.1 154.5,272.2 155.4,272.4 156.2,272.6 157.0,272.8 157.8,273.0 158.6,273.3 159.4,273.6 160.2,273.8 161.0,274.2 161.7,274.5 162.4,274.8 163.2,275.2 163.8,275.6 164.5,276.0 165.1,276.5 165.7,277.0 166.3,277.4 166.9,278.0 167.4,278.5 167.9,279.1 168.4,279.7 168.8,280.2 169.3,280.8 169.8,281.5 170.2,282.1 170.7,282.7 171.3,283.3 171.8,283.9 172.3,284.5 172.9,285.0 173.5,285.6 174.1,286.2 174.7,286.7 175.3,287.3 175.9,287.8 176.6,288.4 177.2,288.9 177.9,289.4 178.5,289.9 179.2,290.3 179.9,290.8 180.6,291.2 181.3,291.7 182.0,292.1 182.7,292.4 183.4,292.8 184.1,293.1 184.8,293.5 185.5,293.8 186.2,294.0 186.9,294.3 187.7,294.6 188.4,294.8 189.1,295.1 189.8,295.3 190.6,295.5 191.3,295.7 192.0,296.0 192.8,296.2 193.5,296.4 194.3,296.6 195.0,296.9 195.8,297.1 196.5,297.4 197.3,297.7 198.1,297.9 198.9,298.3 199.6,298.6 200.4,298.9 201.2,299.2 202.0,299.6 202.8,299.9 203.6,300.3 204.4,300.6 205.2,300.9 206.0,301.2 206.8,301.5 207.6,301.8 208.3,302.0 209.1,302.2 209.9,302.4 210.6,302.5 211.4,302.6 212.1,302.6 212.8,302.6 213.5,302.5 214.2,302.4 214.8,302.2 215.5,302.0 216.1,301.6 216.7,301.3 217.3,300.8 217.9,300.4 218.5,299.9 219.0,299.3 219.6,298.7 220.1,298.1 220.6,297.4 221.1,296.8 221.6,296.1 222.1,295.4 222.6,294.6 223.1,293.9 223.5,293.2 224.0,292.4 224.5,291.7 224.9,291.0 225.4,290.3 225.8,289.6 226.2,288.9 226.7,288.2 227.1,287.5 227.5,286.9 228.0,286.2 228.4,285.6 228.8,284.9 229.3,284.3 229.7,283.6 230.1,283.0 230.6,282.4 231.0,281.7 231.4,281.1 231.9,280.4 232.3,279.8 232.8,279.1 233.2,278.5 233.7,277.9 234.1,277.2 234.6,276.6 235.0,275.9 235.5,275.3 235.9,274.6 236.4,274.0 236.9,273.3 237.4,272.7 237.8,272.0 238.3,271.4 238.8,270.8 239.3,270.1 239.8,269.5 240.2,268.8 240.7,268.2 241.2,267.6 241.7,266.9 242.2,266.3 242.7,265.7 243.3,265.0 243.8,264.4 244.3,263.8 244.8,263.1 245.4,262.5 245.9,261.9 246.4,261.3 247.0,260.7 247.5,260.1 248.1,259.5 248.6,258.9 249.2,258.4 249.8,257.8 250.4,257.3 251.0,256.8 251.7,256.4 252.3,256.0 253.0,255.6 253.7,255.2 254.4,254.9 255.1,254.6 255.9,254.3 256.7,254.2 257.5,254.0 258.3,253.9 259.1,253.9 259.9,253.9 260.7,254.0 261.5,254.1 262.3,254.4 263.0,254.7 263.7,255.0 264.4,255.4 265.0,255.9 265.6,256.4 266.2,256.9 266.8,257.5 267.3,258.1 267.8,258.8 268.3,259.4 268.8,260.1 269.2,260.8 269.7,261.5 270.1,262.2 270.4,262.9 270.8,263.7 271.2,264.4 271.5,265.1 271.8,265.8 272.1,266.6 272.4,267.3 272.7,268.1 273.0,268.8 273.3,269.5 273.5,270.3 273.8,271.1 274.1,271.8 274.3,272.6 274.6,273.3 274.8,274.1 275.1,274.8 275.3,275.6 275.5,276.4 275.8,277.1 276.0,277.9 276.2,278.6 276.4,279.4 276.7,280.2 276.9,281.0 277.1,281.7 277.3,282.5 277.5,283.3 277.7,284.0 277.9,284.8 278.1,285.6 278.3,286.4 278.5,287.1 278.7,287.9 278.8,288.7 279.0,289.5 279.2,290.3 279.4,291.0 279.5,291.8 279.7,292.6 279.8,293.4 280.0,294.2 280.2,294.9 280.3,295.7 280.4,296.5 280.6,297.3 280.7,298.1 280.9,298.9 281.0,299.7 281.1,300.4 281.3,301.2 281.4,302.0 281.5,302.8 281.6,303.6 281.7,304.4 281.9,305.2 282.0,306.0 282.1,306.8 282.2,307.5 282.3,308.3 282.4,309.1 282.5,309.9 282.6,310.7 282.7,311.5 282.8,312.3 282.9,313.1 283.0,313.9 283.1,314.7 283.2,315.5 283.3,316.2 283.4,317.0 283.5,317.8 283.6,318.6 283.6,319.4 283.7,320.2 283.8,321.0 283.9,321.8 284.0,322.6 284.1,323.4 284.2,324.2 284.3,325.0 284.4,325.8 284.4,326.6 284.5,327.4 284.6,328.1 284.7,328.9 284.8,329.7 284.9,330.5 285.0,331.3 285.1,332.1 285.2,332.9 285.3,333.7 285.4,334.5 285.5,335.3 285.6,336.1 285.7,336.9 285.8,337.7 285.9,338.5 286.0,339.3 286.1,340.0 286.2,340.8 286.3,341.6 286.4,342.4 286.5,343.2 286.6,344.0 286.8,344.8 286.9,345.6 287.0,346.4 287.1,347.2 287.3,348.0 287.4,348.8 287.5,349.5 287.7,350.3 287.8,351.1 288.0,351.9 288.1,352.7 288.3,353.5 288.4,354.3 288.6,355.1 288.7,355.9 288.9,356.7 289.0,357.5 289.2,358.2 289.4,359.0 289.5,359.8 289.7,360.6 289.9,361.4 290.1,362.2 290.3,363.0 290.5,363.8 290.6,364.6 290.8,365.4 291.0,366.2 291.2,367.0 291.4,367.7 291.6,368.5 291.9,369.3 292.1,370.1 292.3,370.9 292.5,371.7 292.7,372.5 293.0,373.2 293.2,373.9 293.5,374.3 293.8,374.6 294.1,374.6 294.4,374.4 294.7,373.9 295.1,373.3 295.5,372.6 295.8,371.8 296.1,371.0 296.5,370.2 296.8,369.4 297.1,368.6 297.4,367.8 297.7,367.0 298.0,366.2 298.2,365.4 298.5,364.6 298.8,363.8 299.0,363.0 299.2,362.2 299.5,361.4 299.7,360.7 299.9,359.9 300.2,359.1 300.4,358.3 300.6,357.5 300.8,356.8 301.1,356.0 301.3,355.2 301.5,354.5 301.7,353.7 302.0,352.9 302.2,352.2 302.4,351.4 302.7,350.7 302.9,349.9 303.2,349.2 303.5,348.4 303.7,347.7 304.0,347.0 304.3,346.2 304.6,345.5 304.9,344.8 305.2,344.0 305.6,343.3 305.9,342.6 306.2,341.9 306.6,341.2 307.0,340.5 307.3,339.8 307.7,339.1 308.1,338.4 308.5,337.7 308.9,337.0 309.3,336.3 309.7,335.6 310.1,334.9 310.5,334.2 310.9,333.5 311.4,332.9 311.8,332.2 312.2,331.5 312.6,330.9 313.1,330.2 313.5,329.5 314.0,328.9 314.4,328.2 314.9,327.6 315.3,326.9 315.8,326.3 316.3,325.6 316.7,325.0 317.2,324.3 317.7,323.7 318.2,323.0 318.6,322.4 319.1,321.8 319.6,321.1 320.1,320.5 320.6,319.9 321.1,319.2 321.6,318.6 322.1,318.0 322.6,317.4 323.1,316.7 323.6,316.1 324.1,315.5 324.6,314.9 325.1,314.3 325.6,313.7 326.2,313.0 326.7,312.4 327.2,311.8 327.7,311.2 328.2,310.6 328.8,310.0 329.3,309.4 329.8,308.8 330.3,308.1 330.8,307.5 331.4,306.9 331.9,306.3 332.4,305.7 333.0,305.1 333.5,304.5 334.0,303.9 334.5,303.3 335.1,302.7 335.6,302.1 336.1,301.5 336.6,300.9 337.2,300.3 337.7,299.7 338.2,299.0 338.7,298.4 339.2,297.8 339.8,297.2 340.3,296.6 340.8,296.0 341.3,295.4 341.8,294.8 342.4,294.2 342.9,293.6 343.4,293.0 343.9,292.4 344.4,291.8 345.0,291.2 345.5,290.6 346.1,290.1 346.7,289.6 347.3,289.2 348.0,288.7 348.7,288.4 349.4,288.0 350.1,287.8 350.9,287.5 351.7,287.3 352.5,287.0 353.3,286.8 354.1,286.5 354.8,286.2 355.6,285.8 356.3,285.4 356.9,285.0 357.6,284.5 358.3,284.1 358.9,283.6 359.6,283.2 360.3,282.8 361.0,282.4 361.7,282.1 362.4,281.8 363.2,281.6 363.9,281.4 364.7,281.2 365.5,281.1 366.3,281.0 367.1,280.9 368.0,280.9 368.8,280.8 369.6,280.7 370.3,280.6 371.1,280.5 371.9,280.4 372.6,280.2 373.4,280.0 374.1,279.8 374.9,279.5 375.6,279.2 376.3,278.8 376.9,278.4 377.6,278.0 378.3,277.5 379.0,277.1 379.6,276.6 380.3,276.1 380.9,275.6 381.6,275.1 382.3,274.6 382.9,274.1 383.6,273.6 384.3,273.2 385.0,272.8 385.7,272.4 386.4,272.0 387.1,271.8 387.8,271.5 388.6,271.3 389.3,271.2 390.1,271.1 390.9,271.1 391.7,271.1 392.5,271.2 393.3,271.2 394.2,271.3 395.0,271.4 395.8,271.6 396.6,271.7 397.4,271.8 398.3,272.0 399.1,272.1 399.9,272.3 400.7,272.5 401.4,272.7 402.2,272.9 403.0,273.1 403.8,273.3 404.5,273.5 405.3,273.8 406.0,274.1 406.7,274.4 407.4,274.7 408.1,275.1 408.8,275.4 409.5,275.8 410.2,276.3 410.8,276.7 411.4,277.2 412.0,277.7 412.7,278.2 413.3,278.8 413.8,279.3 414.4,279.9 415.0,280.4 415.6,281.0 416.2,281.6 416.8,282.1 417.4,282.7 418.0,283.2 418.6,283.8 419.2,284.3 419.8,284.8 420.4,285.3 421.0,285.8 421.7,286.3 422.3,286.8 422.9,287.3 423.6,287.8 424.2,288.2 424.9,288.7 425.6,289.1 426.2,289.5 426.9,289.9 427.6,290.4 428.3,290.8 429.0,291.1 429.7,291.5 430.4,291.9 431.1,292.3 431.8,292.6 432.5,293.0 433.2,293.3 434.0,293.6 434.7,293.9 435.4,294.2 436.2,294.5 436.9,294.8 437.7,295.1 438.4,295.4 439.2,295.7 439.9,296.0 440.7,296.3 441.4,296.6 442.2,296.9 442.9,297.1 443.7,297.4 444.4,297.7 445.1,298.0 445.9,298.3 446.6,298.6 447.3,298.9 448.0,299.3 448.8,299.6 449.5,299.9 450.2,300.2 451.0,300.6 451.7,300.9 452.5,301.2 453.2,301.6 454.0,301.9 454.8,302.2 455.6,302.5 456.3,302.8 457.1,303.0 457.9,303.1 458.6,303.1 459.4,303.0 460.1,302.8 460.8,302.5 461.5,302.1 462.1,301.7 462.8,301.2 463.4,300.7 464.0,300.1 464.6,299.6 465.2,299.0 465.8,298.4 466.3,297.8 466.8,297.2 467.4,296.6 467.9,295.9 468.4,295.3 468.8,294.6 469.3,294.0 469.8,293.3 470.2,292.7 470.7,292.0 471.1,291.3 471.5,290.6 472.0,290.0 472.4,289.3 472.8,288.6 473.2,287.9 473.7,287.2 474.1,286.6 474.5,285.9 474.9,285.2 475.3,284.5 475.8,283.9 476.2,283.2 476.6,282.5 477.1,281.9 477.5,281.2 478.0,280.5 478.4,279.9 478.8,279.2 479.3,278.5 479.7,277.9 480.1,277.2 480.5,276.5 480.9,275.8 481.3,275.1 481.8,274.4 482.2,273.7 482.6,273.0 483.0,272.3 483.4,271.6 483.8,270.9 484.2,270.2 484.6,269.5 485.0,268.9 485.4,268.2 485.8,267.5 486.3,266.9 486.7,266.2 487.2,265.6 487.7,265.0 488.2,264.4 488.7,263.8 489.2,263.3 489.8,262.8 490.3,262.2 490.9,261.7 491.5,261.2 492.1,260.7 492.7,260.2 493.3,259.7 494.0,259.1 494.6,258.6 495.3,258.0 496.0,257.5 496.6,257.0 497.3,256.4 498.0,255.9 498.7,255.5 499.4,255.0 500.2,254.6 500.9,254.3 501.6,254.0 502.3,253.7 503.0,253.5 503.8,253.4 504.5,253.4 505.2,253.4 505.9,253.5 506.7,253.7 507.4,254.0 508.1,254.3 508.7,254.7 509.4,255.2 510.1,255.7 510.7,256.2 511.3,256.8 511.9,257.4 512.4,258.1 512.9,258.7 513.4,259.4 513.8,260.1 514.2,260.8 514.6,261.5 515.0,262.2 515.3,262.9 515.6,263.6 516.0,264.4 516.3,265.1 516.6,265.8 516.9,266.6 517.2,267.3 517.5,268.1 517.8,268.8 518.1,269.6 518.3,270.3 518.6,271.1 518.9,271.8 519.1,272.6 519.4,273.3 519.6,274.1 519.9,274.9 520.1,275.6 520.3,276.4 520.6,277.1 520.8,277.9 521.0,278.7 521.2,279.4 521.5,280.2 521.7,281.0 521.9,281.8 522.1,282.5 522.3,283.3 522.5,284.1 522.7,284.9 522.9,285.6 523.0,286.4 523.2,287.2 523.4,288.0 523.6,288.7 523.8,289.5 523.9,290.3 524.1,291.1 524.3,291.9 524.5,292.6 524.6,293.4 524.8,294.2 524.9,295.0 525.1,295.8 525.3,296.6 525.4,297.3 525.6,298.1 525.7,298.9 525.9,299.7 526.0,300.5 526.2,301.3 526.3,302.1 526.5,302.8 526.6,303.6 526.7,304.4 526.9,305.2 527.0,306.0 527.1,306.8 527.3,307.6 527.4,308.4 527.5,309.2 527.7,309.9 527.8,310.7 527.9,311.5 528.1,312.3 528.2,313.1 528.3,313.9 528.4,314.7 528.6,315.5 528.7,316.3 528.8,317.1 528.9,317.9 529.0,318.6 529.2,319.4 529.3,320.2 529.4,321.0 529.5,321.8 529.6,322.6 529.8,323.4 529.9,324.2 530.0,325.0 530.1,325.8 530.2,326.6 530.3,327.4 530.5,328.2 530.6,328.9 530.7,329.7 530.8,330.5 530.9,331.3 531.0,332.1 531.2,332.9 531.3,333.7 531.4,334.5 531.5,335.3 531.6,336.1 531.8,336.9 531.9,337.7 532.0,338.4 532.1,339.2 532.3,340.0 532.4,340.8 532.5,341.6 532.6,342.4 532.8,343.2 532.9,344.0 533.0,344.8 533.2,345.6 533.3,346.3 533.4,347.1 533.6,347.9 533.7,348.7 533.8,349.5 534.0,350.3 534.1,351.1 534.3,351.8 534.4,352.6 534.6,353.4 534.7,354.2" fill="none" stroke="#0000ff" stroke-width="1.35" stroke-linejoin="round" stroke-dasharray="8.8 6"/>
<path d="M42.8,337.5 42.9,338.5 43.0,339.5 43.1,340.5 43.3,341.4 43.4,342.3 43.5,343.1 43.6,343.9 43.7,344.7 43.8,345.5 43.9,346.2 44.0,347.0 44.1,347.7 44.3,348.4 44.4,349.1 44.5,349.8 44.6,350.4 44.7,351.1 44.8,351.8 45.0,352.5 45.1,353.2 45.2,353.9 45.3,354.6 45.5,355.3 45.6,356.0 45.7,356.8 45.9,357.5 46.0,358.3 46.2,359.1 46.3,360.0 46.5,360.8 46.7,361.7 46.8,362.7 47.0,363.7 47.2,364.7 47.4,365.7 47.6,366.6 47.8,367.5 48.1,368.3 48.4,368.9 48.8,369.2 49.2,369.4 49.6,369.3 50.1,368.9 50.7,368.4 51.2,367.8 51.6,367.1 52.0,366.4 52.4,365.6 52.8,364.9 53.2,364.1 53.5,363.2 53.8,362.4 54.1,361.7 54.5,360.9 54.8,360.1 55.1,359.4 55.4,358.6 55.7,357.9 56.1,357.2 56.4,356.5 56.7,355.8 57.0,355.1 57.3,354.4 57.6,353.6 57.9,352.9 58.2,352.2 58.5,351.5 58.8,350.8 59.1,350.0 59.4,349.3 59.7,348.5 60.0,347.8 60.3,347.0 60.6,346.3 60.9,345.6 61.3,344.8 61.6,344.1 61.9,343.3 62.3,342.6 62.6,341.9 63.0,341.1 63.3,340.4 63.7,339.7 64.1,339.0 64.4,338.3 64.8,337.6 65.2,336.9 65.6,336.2 66.0,335.5 66.4,334.8 66.7,334.2 67.1,333.5 67.5,332.8 67.9,332.1 68.3,331.4 68.7,330.7 69.1,330.0 69.5,329.3 69.8,328.6 70.2,327.9 70.6,327.2 70.9,326.5 71.3,325.8 71.7,325.0 72.0,324.3 72.4,323.6 72.7,322.9 73.1,322.2 73.4,321.5 73.8,320.7 74.2,320.0 74.5,319.3 74.9,318.6 75.3,317.9 75.7,317.2 76.0,316.5 76.4,315.8 76.8,315.1 77.2,314.4 77.7,313.7 78.1,313.1 78.5,312.4 79.0,311.7 79.4,311.1 79.9,310.4 80.3,309.8 80.8,309.1 81.2,308.5 81.7,307.9 82.2,307.2 82.7,306.6 83.2,306.0 83.7,305.3 84.1,304.7 84.6,304.1 85.1,303.5 85.6,302.8 86.1,302.2 86.6,301.6 87.1,301.0 87.6,300.3 88.1,299.7 88.6,299.1 89.1,298.5 89.6,297.8 90.1,297.2 90.5,296.5 91.0,295.9 91.5,295.2 91.9,294.6 92.4,293.9 92.9,293.3 93.3,292.6 93.7,291.9 94.2,291.3 94.6,290.6 95.1,289.9 95.5,289.2 95.9,288.6 96.4,287.9 96.8,287.3 97.3,286.6 97.8,286.0 98.2,285.4 98.7,284.8 99.2,284.2 99.7,283.6 100.3,283.0 100.8,282.5 101.4,282.0 102.0,281.5 102.7,281.1 103.3,280.6 104.0,280.2 104.7,279.9 105.4,279.5 106.1,279.1 106.9,278.8 107.6,278.5 108.4,278.2 109.2,277.9 109.9,277.6 110.7,277.3 111.5,277.0 112.3,276.8 113.1,276.5 113.8,276.2 114.6,275.9 115.4,275.6 116.1,275.3 116.9,274.9 117.6,274.6 118.3,274.2 119.0,273.9 119.7,273.5 120.4,273.1 121.1,272.7 121.8,272.3 122.4,271.8 123.0,271.4 123.7,270.9 124.3,270.4 124.9,269.9 125.5,269.4 126.1,268.8 126.6,268.3 127.2,267.7 127.8,267.1 128.3,266.6 128.9,266.0 129.4,265.4 130.0,264.9 130.6,264.3 131.2,263.8 131.8,263.3 132.5,262.8 133.1,262.4 133.8,262.0 134.5,261.5 135.2,261.1 135.9,260.8 136.6,260.4 137.3,260.1 138.1,259.8 138.8,259.5 139.6,259.3 140.4,259.0 141.2,258.8 141.9,258.6 142.7,258.4 143.5,258.3 144.3,258.2 145.1,258.1 145.9,258.0 146.7,257.9 147.6,257.9 148.4,257.8 149.2,257.8 150.0,257.9 150.8,257.9 151.6,258.0 152.4,258.1 153.2,258.2 154.0,258.3 154.8,258.5 155.6,258.6 156.3,258.8 157.1,259.0 157.9,259.3 158.6,259.5 159.3,259.8 160.1,260.1 160.8,260.4 161.5,260.8 162.2,261.1 162.9,261.5 163.6,261.9 164.3,262.3 165.0,262.7 165.7,263.1 166.3,263.5 167.0,263.9 167.7,264.4 168.4,264.8 169.0,265.3 169.7,265.7 170.3,266.2 171.0,266.6 171.7,267.1 172.3,267.6 173.0,268.0 173.6,268.5 174.3,268.9 175.0,269.4 175.6,269.9 176.3,270.3 176.9,270.8 177.6,271.2 178.2,271.7 178.9,272.2 179.5,272.6 180.2,273.1 180.8,273.6 181.5,274.0 182.1,274.5 182.8,275.0 183.4,275.5 184.0,275.9 184.7,276.4 185.3,276.9 185.9,277.4 186.6,277.9 187.2,278.4 187.8,278.9 188.4,279.4 189.0,279.9 189.7,280.4 190.3,280.9 190.9,281.4 191.5,281.9 192.1,282.4 192.7,283.0 193.3,283.5 193.9,284.0 194.5,284.5 195.2,285.0 195.8,285.5 196.4,286.1 197.0,286.6 197.6,287.1 198.2,287.6 198.9,288.1 199.5,288.6 200.1,289.1 200.8,289.5 201.4,290.0 202.1,290.5 202.7,291.0 203.4,291.4 204.0,291.9 204.7,292.3 205.4,292.7 206.1,293.1 206.8,293.5 207.5,293.9 208.2,294.2 208.9,294.5 209.7,294.8 210.4,295.1 211.2,295.3 212.0,295.4 212.8,295.6 213.6,295.7 214.4,295.8 215.2,295.8 216.0,295.8 216.8,295.8 217.6,295.8 218.4,295.7 219.2,295.6 220.0,295.5 220.8,295.3 221.5,295.1 222.3,294.9 223.1,294.6 223.8,294.3 224.6,294.0 225.3,293.6 226.0,293.3 226.7,292.8 227.3,292.4 228.0,291.9 228.6,291.5 229.2,291.0 229.8,290.4 230.4,289.9 231.0,289.3 231.5,288.7 232.1,288.2 232.6,287.6 233.2,287.0 233.7,286.4 234.2,285.8 234.8,285.2 235.3,284.6 235.9,284.0 236.4,283.4 237.0,282.8 237.5,282.3 238.1,281.8 238.7,281.2 239.3,280.7 239.8,280.2 240.4,279.7 240.9,279.1 241.4,278.5 241.9,277.9 242.3,277.3 242.8,276.6 243.2,276.0 243.6,275.3 244.0,274.6 244.4,274.0 244.8,273.3 245.2,272.6 245.6,271.9 246.0,271.2 246.4,270.5 246.9,269.8 247.3,269.1 247.7,268.4 248.2,267.7 248.6,267.1 249.1,266.4 249.6,265.8 250.2,265.1 250.7,264.5 251.3,263.9 251.9,263.3 252.6,262.8 253.2,262.3 253.9,261.8 254.6,261.4 255.3,261.0 256.0,260.7 256.7,260.5 257.4,260.3 258.1,260.2 258.8,260.3 259.5,260.4 260.2,260.5 260.9,260.8 261.6,261.1 262.3,261.5 263.0,261.9 263.6,262.4 264.3,262.9 264.9,263.4 265.6,264.0 266.2,264.6 266.8,265.2 267.4,265.9 268.0,266.5 268.6,267.2 269.1,267.8 269.7,268.4 270.2,269.1 270.7,269.7 271.2,270.4 271.7,271.0 272.2,271.6 272.6,272.3 273.1,272.9 273.5,273.6 273.9,274.3 274.3,274.9 274.7,275.6 275.1,276.3 275.5,277.0 275.8,277.7 276.1,278.4 276.5,279.1 276.8,279.8 277.1,280.5 277.4,281.2 277.6,282.0 277.9,282.7 278.2,283.4 278.4,284.2 278.7,284.9 278.9,285.7 279.1,286.4 279.4,287.2 279.6,287.9 279.8,288.7 280.0,289.5 280.2,290.2 280.4,291.0 280.6,291.8 280.7,292.6 280.9,293.4 281.1,294.1 281.3,294.9 281.4,295.7 281.6,296.5 281.8,297.3 281.9,298.1 282.1,298.9 282.3,299.7 282.4,300.5 282.6,301.3 282.7,302.1 282.9,302.9 283.0,303.7 283.2,304.5 283.4,305.3 283.5,306.1 283.7,306.9 283.8,307.7 284.0,308.5 284.1,309.3 284.3,310.1 284.4,310.9 284.6,311.7 284.7,312.5 284.9,313.3 285.0,314.2 285.2,315.0 285.3,315.8 285.5,316.6 285.6,317.4 285.8,318.2 285.9,319.0 286.1,319.7 286.2,320.5 286.4,321.3 286.5,322.1 286.7,322.9 286.8,323.7 287.0,324.5 287.1,325.3 287.3,326.0 287.4,326.8 287.6,327.6 287.7,328.3 287.8,329.1 288.0,329.9 288.1,330.6 288.3,331.4 288.4,332.1 288.6,332.9 288.7,333.6 288.9,334.4 289.0,335.1 289.2,335.9 289.4,336.6 289.5,337.3 289.7,338.0 289.8,338.7 290.0,339.5 290.1,340.2 290.3,340.9 290.4,341.6 290.6,342.3 290.7,343.0 290.9,343.7 291.1,344.4 291.2,345.1 291.4,345.8 291.5,346.6 291.6,347.3 291.8,348.1 291.9,348.9 292.1,349.7 292.2,350.5 292.3,351.3 292.4,352.2 292.6,353.1 292.7,354.0 292.8,354.9 292.9,355.9 293.0,356.9 293.0,358.0 293.1,359.0 293.2,360.1 293.3,361.3 293.3,362.4 293.4,363.5 293.5,364.6 293.6,365.6 293.7,366.5 293.9,367.3 294.0,368.1 294.2,368.7 294.5,369.1 294.7,369.4 295.1,369.6 295.4,369.5 295.8,369.2 296.2,368.7 296.7,368.2 297.1,367.5 297.4,366.8 297.7,366.1 298.0,365.3 298.3,364.5 298.6,363.7 298.9,362.9 299.2,362.1 299.4,361.3 299.7,360.5 300.0,359.7 300.2,358.9 300.5,358.1 300.8,357.4 301.0,356.6 301.3,355.8 301.6,355.1 301.9,354.3 302.1,353.5 302.4,352.8 302.7,352.0 303.0,351.3 303.3,350.6 303.6,349.8 303.9,349.1 304.2,348.4 304.5,347.7 304.8,347.0 305.2,346.3 305.5,345.6 305.8,344.9 306.2,344.2 306.6,343.5 306.9,342.8 307.3,342.2 307.7,341.5 308.1,340.8 308.5,340.2 308.9,339.5 309.3,338.9 309.7,338.2 310.1,337.6 310.5,336.9 310.9,336.2 311.3,335.5 311.7,334.9 312.0,334.2 312.4,333.5 312.8,332.8 313.1,332.0 313.5,331.3 313.8,330.6 314.2,329.9 314.5,329.2 314.9,328.5 315.2,327.7 315.6,327.0 315.9,326.3 316.3,325.6 316.7,324.9 317.0,324.2 317.4,323.5 317.8,322.8 318.2,322.1 318.6,321.4 319.0,320.7 319.5,320.0 319.9,319.4 320.4,318.7 320.8,318.1 321.3,317.4 321.8,316.8 322.3,316.1 322.7,315.5 323.2,314.9 323.8,314.3 324.3,313.6 324.8,313.0 325.3,312.4 325.8,311.8 326.3,311.2 326.8,310.6 327.4,310.0 327.9,309.3 328.4,308.7 328.9,308.1 329.4,307.5 329.9,306.8 330.4,306.2 330.9,305.6 331.3,304.9 331.8,304.3 332.3,303.6 332.7,303.0 333.2,302.3 333.6,301.6 334.0,300.9 334.4,300.3 334.9,299.6 335.3,298.9 335.7,298.2 336.1,297.5 336.5,296.8 336.9,296.1 337.3,295.4 337.7,294.8 338.1,294.1 338.6,293.4 339.0,292.7 339.4,292.0 339.8,291.3 340.2,290.7 340.7,290.0 341.1,289.3 341.6,288.7 342.0,288.0 342.5,287.4 342.9,286.8 343.4,286.1 343.9,285.5 344.4,284.9 344.9,284.3 345.5,283.7 346.0,283.2 346.6,282.7 347.2,282.1 347.8,281.7 348.5,281.2 349.1,280.7 349.8,280.3 350.5,279.9 351.2,279.5 351.9,279.1 352.6,278.8 353.4,278.4 354.1,278.1 354.9,277.8 355.7,277.5 356.4,277.2 357.2,276.9 358.0,276.6 358.7,276.3 359.5,276.1 360.3,275.8 361.0,275.5 361.8,275.2 362.5,275.0 363.3,274.7 364.0,274.4 364.8,274.1 365.5,273.8 366.2,273.4 366.9,273.1 367.6,272.7 368.2,272.3 368.9,271.8 369.5,271.4 370.1,270.9 370.7,270.4 371.3,269.9 371.9,269.3 372.4,268.7 373.0,268.2 373.6,267.6 374.1,267.0 374.7,266.5 375.3,265.9 375.9,265.4 376.5,264.8 377.1,264.3 377.7,263.8 378.4,263.3 379.0,262.8 379.7,262.4 380.3,261.9 381.0,261.5 381.7,261.1 382.4,260.7 383.1,260.4 383.8,260.0 384.5,259.7 385.3,259.4 386.0,259.2 386.8,259.0 387.5,258.8 388.3,258.6 389.1,258.4 389.9,258.3 390.7,258.2 391.5,258.2 392.3,258.2 393.1,258.2 393.9,258.2 394.7,258.3 395.5,258.4 396.4,258.5 397.2,258.7 398.0,258.9 398.8,259.0 399.6,259.3 400.4,259.5 401.1,259.7 401.9,260.0 402.7,260.3 403.4,260.6 404.1,260.9 404.9,261.2 405.6,261.6 406.3,261.9 407.0,262.3 407.7,262.6 408.4,263.0 409.1,263.4 409.8,263.8 410.5,264.2 411.2,264.7 411.8,265.1 412.5,265.5 413.2,266.0 413.8,266.4 414.5,266.9 415.1,267.3 415.8,267.8 416.5,268.2 417.1,268.7 417.8,269.1 418.4,269.6 419.1,270.0 419.8,270.5 420.4,270.9 421.1,271.4 421.7,271.8 422.4,272.3 423.1,272.7 423.8,273.1 424.4,273.5 425.1,274.0 425.8,274.4 426.5,274.8 427.2,275.1 427.9,275.5 428.6,275.9 429.3,276.3 430.0,276.7 430.7,277.0 431.4,277.4 432.1,277.8 432.8,278.2 433.5,278.6 434.2,279.0 434.9,279.4 435.6,279.8 436.2,280.2 436.9,280.6 437.6,281.1 438.2,281.5 438.9,282.0 439.5,282.5 440.1,283.0 440.7,283.5 441.3,284.1 441.9,284.6 442.5,285.2 443.1,285.7 443.7,286.3 444.3,286.8 444.9,287.4 445.5,288.0 446.1,288.5 446.7,289.1 447.3,289.6 447.9,290.1 448.5,290.6 449.1,291.1 449.8,291.6 450.4,292.1 451.1,292.5 451.8,292.9 452.5,293.3 453.2,293.6 453.9,293.9 454.7,294.2 455.4,294.5 456.2,294.7 456.9,295.0 457.7,295.2 458.5,295.3 459.3,295.5 460.1,295.6 460.9,295.7 461.7,295.7 462.5,295.7 463.3,295.7 464.1,295.7 464.9,295.7 465.7,295.6 466.5,295.5 467.3,295.4 468.0,295.2 468.8,295.0 469.6,294.8 470.3,294.6 471.1,294.3 471.8,294.0 472.5,293.7 473.2,293.3 473.9,292.9 474.6,292.5 475.3,292.1 475.9,291.6 476.5,291.2 477.2,290.7 477.8,290.2 478.4,289.6 478.9,289.1 479.5,288.5 480.1,287.9 480.6,287.3 481.1,286.7 481.7,286.1 482.2,285.4 482.7,284.8 483.2,284.1 483.7,283.5 484.2,282.8 484.7,282.1 485.2,281.5 485.6,280.8 486.1,280.1 486.6,279.4 487.0,278.8 487.5,278.1 488.0,277.4 488.4,276.8 488.9,276.1 489.3,275.5 489.8,274.9 490.2,274.2 490.7,273.6 491.1,273.0 491.6,272.4 492.0,271.7 492.5,271.1 493.0,270.5 493.5,269.9 493.9,269.3 494.4,268.7 494.9,268.1 495.4,267.5 496.0,266.8 496.5,266.2 497.0,265.6 497.6,265.0 498.1,264.3 498.7,263.7 499.3,263.1 499.9,262.4 500.5,261.8 501.1,261.2 501.8,260.7 502.4,260.3 503.1,260.0 503.7,259.8 504.4,259.7 505.1,259.8 505.7,260.1 506.4,260.4 507.1,260.8 507.7,261.2 508.4,261.7 509.0,262.2 509.7,262.8 510.3,263.3 510.9,263.8 511.6,264.4 512.2,265.0 512.8,265.5 513.3,266.1 513.9,266.7 514.5,267.3 515.0,267.9 515.6,268.5 516.1,269.1 516.6,269.8 517.1,270.4 517.6,271.0 518.1,271.7 518.6,272.3 519.0,273.0 519.5,273.7 519.9,274.3 520.3,275.0 520.7,275.7 521.1,276.4 521.5,277.1 521.8,277.8 522.2,278.5 522.5,279.2 522.8,279.9 523.1,280.7 523.4,281.4 523.7,282.1 524.0,282.9 524.3,283.6 524.5,284.3 524.8,285.1 525.0,285.8 525.2,286.6 525.4,287.3 525.6,288.1 525.8,288.9 526.0,289.6 526.2,290.4 526.4,291.2 526.6,292.0 526.7,292.7 526.9,293.5 527.0,294.3 527.2,295.1 527.3,295.9 527.5,296.7 527.6,297.5 527.7,298.3 527.8,299.1 528.0,299.9 528.1,300.7 528.2,301.5 528.3,302.3 528.4,303.1 528.5,303.9 528.6,304.7 528.7,305.5 528.8,306.3 528.9,307.1 529.0,307.9 529.0,308.7 529.1,309.5 529.2,310.3 529.3,311.1 529.4,311.9 529.5,312.8 529.6,313.6 529.7,314.4 529.8,315.2 529.9,316.0 530.0,316.8 530.1,317.6 530.2,318.4 530.3,319.2 530.4,320.0 530.5,320.8 530.6,321.6 530.8,322.4 530.9,323.2 531.0,324.0 531.2,324.7 531.3,325.5 531.5,326.3 531.6,327.1 531.8,327.9 532.0,328.6 532.1,329.4 532.3,330.2 532.5,331.0 532.7,331.7 532.9,332.5 533.2,333.2 533.4,334.0 533.6,334.7 533.9,335.5 534.1,336.2 534.4,337.0 534.7,337.7" fill="none" stroke="#ff0000" stroke-width="1.75" stroke-linejoin="round"/>
</g>
<text x="43.2" y="397.8" text-anchor="middle" class="tk">10</text>
<text x="92.3" y="397.8" text-anchor="middle" class="tk">10.1</text>
<text x="141.5" y="397.8" text-anchor="middle" class="tk">10.2</text>
<text x="190.6" y="397.8" text-anchor="middle" class="tk">10.3</text>
<text x="239.7" y="397.8" text-anchor="middle" class="tk">10.4</text>
<text x="288.9" y="397.8" text-anchor="middle" class="tk">10.5</text>
<text x="338.0" y="397.8" text-anchor="middle" class="tk">10.6</text>
<text x="387.1" y="397.8" text-anchor="middle" class="tk">10.7</text>
<text x="436.2" y="397.8" text-anchor="middle" class="tk">10.8</text>
<text x="485.4" y="397.8" text-anchor="middle" class="tk">10.9</text>
<text x="534.5" y="397.8" text-anchor="middle" class="tk">11</text>
<text x="40.2" y="385.5" text-anchor="end" class="tk">-2</text>
<text x="40.2" y="354.8" text-anchor="end" class="tk">-1</text>
<text x="40.2" y="324.1" text-anchor="end" class="tk">0</text>
<text x="40.2" y="293.4" text-anchor="end" class="tk">1</text>
<text x="40.2" y="262.7" text-anchor="end" class="tk">2</text>
<text x="40.2" y="231.9" text-anchor="end" class="tk">3</text>

<text x="276.0" y="199.8" class="lab" style="font-size:19px">t</text><text transform="translate(282.8 203.7) scale(0.86 1)" class="lab" style="font-style:normal;font-size:23.5px">/</text><text x="288.6" y="199.8" class="lab" textLength="11.6" lengthAdjust="spacingAndGlyphs">T</text>

<text x="276.0" y="414.5" class="lab" style="font-size:19px">t</text><text transform="translate(282.8 418.4) scale(0.86 1)" class="lab" style="font-style:normal;font-size:23.5px">/</text><text x="288.6" y="414.5" class="lab" textLength="11.6" lengthAdjust="spacingAndGlyphs">T</text>

<text transform="translate(21 99.5) rotate(-90)" class="lab" style="font-size:17.8px">C<tspan style="font-size:12.5px" dx="-0.6" dy="3">L</tspan></text>
<text transform="translate(21 314.6) rotate(-90)" class="lab" style="font-size:17.8px">C<tspan style="font-size:12.5px" dx="-0.6" dy="3">P</tspan></text>
<path d="M54 19.8 H149.8 M54 70.8 H149.8 M54 19.3 V71.3 M149.8 19.3 V71.3" fill="#fff" stroke="#4a4a4a" stroke-width="1"/>
<rect x="54.5" y="20.3" width="94.8" height="50" fill="#fff"/>
<path d="M54 19.8 H149.8 M54 70.8 H149.8 M54 19.3 V71.3 M149.8 19.3 V71.3" fill="none" stroke="#4a4a4a" stroke-width="1"/>
<line x1="57.2" y1="29.3" x2="94" y2="29.3" stroke="#ff0000" stroke-width="1.8"/>
<text x="96.4" y="32.7" class="lg" font-style="italic">α</text><text x="108.0" y="33.6" class="lg" textLength="10.8" lengthAdjust="spacingAndGlyphs">=</text><text x="122.0 128.0" y="32.8" class="lg">60</text><text x="134.9" y="28.0" class="lg" style="font-size:9.5px" font-style="italic">o</text>
<line x1="57.2" y1="45.6" x2="94" y2="45.6" stroke="#0000ff" stroke-width="1.4" stroke-dasharray="8.8 6"/>
<text x="96.4" y="48.6" class="lg" font-style="italic">α</text><text x="108.0" y="49.5" class="lg" textLength="10.8" lengthAdjust="spacingAndGlyphs">=</text><text x="122.1 128.6" y="48.7" class="lg">90</text><text x="134.4" y="43.9" class="lg" style="font-size:9.5px" font-style="italic">o</text>
<line x1="57.2" y1="61.6" x2="94" y2="61.6" stroke="#000000" stroke-width="1.8" stroke-dasharray="7.2 3.2 1.6 2.8"/>
<text x="96.4" y="64.4" class="lg" font-style="italic">α</text><text x="108.0" y="65.3" class="lg" textLength="10.8" lengthAdjust="spacingAndGlyphs">=</text><text x="121.8 127.0 133.7" y="64.5" class="lg">120</text><text x="141.1" y="59.7" class="lg" style="font-size:9.5px" font-style="italic">o</text>

</svg>
</body></html>
